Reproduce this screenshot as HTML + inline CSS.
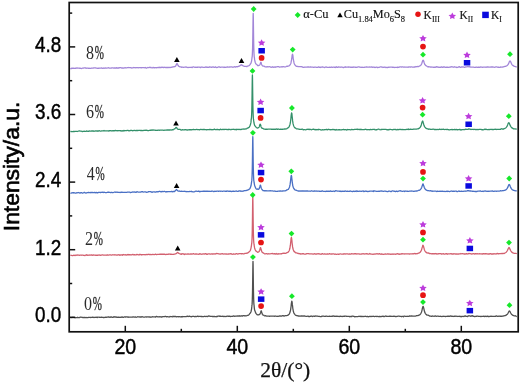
<!DOCTYPE html>
<html><head><meta charset="utf-8"><title>XRD</title>
<style>
html,body{margin:0;padding:0;background:#fff;}
svg{display:block;}
</style></head>
<body>
<svg width="520" height="384" viewBox="0 0 520 384">
<rect width="520" height="384" fill="#fff"/>
<g>
<path d="M70.4,317.55 L71.0,317.66 L71.6,317.57 L72.2,317.52 L72.8,317.40 L73.4,317.48 L74.0,317.72 L74.6,317.68 L75.2,317.76 L75.8,317.65 L76.4,317.64 L77.0,317.59 L77.6,317.26 L78.2,317.59 L78.8,317.62 L79.4,317.63 L80.0,317.25 L80.6,317.13 L81.2,317.23 L81.8,317.33 L82.4,317.49 L83.0,317.47 L83.6,317.56 L84.2,317.38 L84.8,317.49 L85.4,317.53 L86.0,317.36 L86.6,317.71 L87.2,317.61 L87.8,317.69 L88.4,317.40 L89.0,317.29 L89.6,317.32 L90.2,317.36 L90.8,317.50 L91.4,317.47 L92.0,317.34 L92.6,317.21 L93.2,317.24 L93.8,317.54 L94.4,317.28 L95.0,317.38 L95.6,317.44 L96.2,317.13 L96.8,317.29 L97.4,317.55 L98.0,317.06 L98.6,317.19 L99.2,317.27 L99.8,317.17 L100.4,317.35 L101.0,317.31 L101.6,317.06 L102.2,317.37 L102.8,317.43 L103.4,317.49 L104.0,317.59 L104.6,317.43 L105.2,317.34 L105.8,317.07 L106.4,317.31 L107.0,317.16 L107.6,317.15 L108.2,317.00 L108.8,317.00 L109.4,317.07 L110.0,317.40 L110.6,316.93 L111.2,316.88 L111.8,317.15 L112.4,317.43 L113.0,317.37 L113.6,316.92 L114.2,316.68 L114.8,317.09 L115.4,317.02 L116.0,316.94 L116.6,317.26 L117.2,317.38 L117.8,317.25 L118.4,317.22 L119.0,317.24 L119.6,317.44 L120.2,317.33 L120.8,317.27 L121.4,317.26 L122.0,316.89 L122.6,317.26 L123.2,317.31 L123.8,317.25 L124.4,316.80 L125.0,316.89 L125.6,317.17 L126.2,316.79 L126.8,316.96 L127.4,317.20 L128.0,316.88 L128.6,317.27 L129.2,317.21 L129.8,317.07 L130.4,317.10 L131.0,317.16 L131.6,317.09 L132.2,317.23 L132.8,316.97 L133.4,316.93 L134.0,317.16 L134.6,317.05 L135.2,316.86 L135.8,317.11 L136.4,317.27 L137.0,316.99 L137.6,316.74 L138.2,316.87 L138.8,316.91 L139.4,316.89 L140.0,317.17 L140.6,316.83 L141.2,317.12 L141.8,316.77 L142.4,316.74 L143.0,316.97 L143.6,317.12 L144.2,317.12 L144.8,317.03 L145.4,316.96 L146.0,316.94 L146.6,317.00 L147.2,316.89 L147.8,316.92 L148.4,316.98 L149.0,316.90 L149.6,317.00 L150.2,316.99 L150.8,317.23 L151.4,317.01 L152.0,316.82 L152.6,316.76 L153.2,316.80 L153.8,316.97 L154.4,316.80 L155.0,316.87 L155.6,317.13 L156.2,316.46 L156.8,316.50 L157.4,316.74 L158.0,316.84 L158.6,316.83 L159.2,316.71 L159.8,316.86 L160.4,316.84 L161.0,316.69 L161.6,317.14 L162.2,316.92 L162.8,316.70 L163.4,316.70 L164.0,316.68 L164.6,316.69 L165.2,316.24 L165.8,316.48 L166.4,316.81 L167.0,316.53 L167.6,316.63 L168.2,316.83 L168.8,316.87 L169.4,316.98 L170.0,316.47 L170.6,316.54 L171.2,316.56 L171.8,316.73 L172.4,316.86 L173.0,316.25 L173.6,316.70 L174.2,316.40 L174.8,316.67 L175.4,316.38 L176.0,316.57 L176.6,316.80 L177.2,316.63 L177.8,316.64 L178.4,316.74 L179.0,316.65 L179.6,316.58 L180.2,316.83 L180.8,316.82 L181.4,316.59 L182.0,317.03 L182.6,316.50 L183.2,316.68 L183.8,316.53 L184.4,316.55 L185.0,316.65 L185.6,316.60 L186.2,316.65 L186.8,316.29 L187.4,316.18 L188.0,316.51 L188.6,316.33 L189.2,316.26 L189.8,316.16 L190.4,316.60 L191.0,316.63 L191.6,316.76 L192.2,316.39 L192.8,316.43 L193.4,316.25 L194.0,316.51 L194.6,316.73 L195.2,316.36 L195.8,316.67 L196.4,316.66 L197.0,316.45 L197.6,316.08 L198.2,316.54 L198.8,316.42 L199.4,316.29 L200.0,316.42 L200.6,316.46 L201.2,316.66 L201.8,316.29 L202.4,316.55 L203.0,316.68 L203.6,316.72 L204.2,316.45 L204.8,316.27 L205.4,316.52 L206.0,316.44 L206.6,316.42 L207.2,316.63 L207.8,316.41 L208.4,315.99 L209.0,316.19 L209.6,316.00 L210.2,316.40 L210.8,316.44 L211.4,316.29 L212.0,316.34 L212.6,316.50 L213.2,316.42 L213.8,316.61 L214.4,316.43 L215.0,316.56 L215.6,316.68 L216.2,316.73 L216.8,316.36 L217.4,316.51 L218.0,316.09 L218.6,316.09 L219.2,315.95 L219.8,316.42 L220.4,316.16 L221.0,316.30 L221.6,316.30 L222.2,316.33 L222.8,316.24 L223.4,316.36 L224.0,316.65 L224.6,316.44 L225.2,316.46 L225.8,316.55 L226.4,316.37 L227.0,316.13 L227.6,316.18 L228.2,316.46 L228.8,316.09 L229.4,316.15 L230.0,316.44 L230.6,316.49 L231.2,316.36 L231.8,316.46 L232.4,316.37 L233.0,316.12 L233.6,315.97 L234.2,316.08 L234.8,316.37 L235.4,316.20 L236.0,316.08 L236.6,316.07 L237.2,315.92 L237.8,316.11 L238.4,315.98 L239.0,316.19 L239.6,315.78 L240.2,316.10 L240.8,316.01 L241.4,315.74 L242.0,316.10 L242.6,316.01 L243.2,315.62 L243.8,315.70 L244.4,315.87 L245.0,315.75 L245.6,315.86 L246.2,315.81 L246.8,315.68 L247.4,315.45 L248.0,315.38 L248.6,315.01 L249.2,314.54 L249.8,313.50 L250.4,313.00 L251.0,311.75 L251.6,308.82 L251.7,307.73 L251.8,306.88 L251.9,305.54 L252.1,304.13 L252.2,302.37 L252.3,299.80 L252.4,296.64 L252.5,292.46 L252.6,286.76 L252.7,279.63 L252.8,271.52 L252.9,264.26 L253.0,261.29 L253.1,264.30 L253.2,271.50 L253.3,279.60 L253.4,286.71 L253.5,292.28 L253.6,296.55 L253.7,299.82 L253.8,302.23 L253.9,304.05 L254.1,305.51 L254.2,306.86 L254.3,307.80 L254.6,310.08 L255.2,311.60 L255.8,313.14 L256.4,313.94 L257.0,314.63 L257.6,314.77 L258.2,314.79 L258.8,314.78 L259.0,314.63 L259.2,314.68 L259.4,314.58 L259.6,314.39 L259.8,314.28 L260.0,314.06 L260.2,313.55 L260.4,313.05 L260.6,312.47 L260.8,311.76 L261.0,311.10 L261.2,310.81 L261.4,311.25 L261.6,311.92 L261.8,312.57 L262.0,313.20 L262.2,313.89 L262.4,314.31 L262.6,314.67 L262.8,314.88 L263.0,314.98 L263.2,315.16 L263.4,315.17 L263.6,315.15 L264.2,315.54 L264.8,315.83 L265.4,315.76 L266.0,315.89 L266.6,316.06 L267.2,316.12 L267.8,316.21 L268.4,316.18 L269.0,316.09 L269.6,316.27 L270.2,316.21 L270.8,316.05 L271.4,316.04 L272.0,316.15 L272.6,316.17 L273.2,316.22 L273.8,316.21 L274.4,316.24 L275.0,316.20 L275.6,315.99 L276.2,316.21 L276.8,316.38 L277.4,316.33 L278.0,316.20 L278.6,316.26 L279.2,316.04 L279.8,315.80 L280.4,316.05 L281.0,315.94 L281.6,316.18 L282.2,315.92 L282.8,315.56 L283.4,315.69 L284.0,316.14 L284.6,315.89 L285.2,315.59 L285.8,315.53 L286.4,315.63 L287.0,315.53 L287.6,315.26 L288.2,315.13 L288.8,314.56 L289.1,314.09 L289.3,313.75 L289.6,313.37 L289.8,312.80 L290.1,312.09 L290.3,311.06 L290.6,309.86 L290.8,308.31 L291.1,306.27 L291.3,304.05 L291.6,302.04 L291.8,301.23 L292.1,302.01 L292.3,304.13 L292.6,306.38 L292.8,308.30 L293.1,309.89 L293.3,311.23 L293.6,312.04 L293.8,312.78 L294.1,313.35 L294.3,313.75 L294.6,314.02 L294.8,314.34 L295.4,314.93 L296.0,315.42 L296.6,315.65 L297.2,315.69 L297.8,315.92 L298.4,316.00 L299.0,316.01 L299.6,316.03 L300.2,316.01 L300.8,316.19 L301.4,315.97 L302.0,316.00 L302.6,316.13 L303.2,315.93 L303.8,316.06 L304.4,315.84 L305.0,316.01 L305.6,316.28 L306.2,316.37 L306.8,316.30 L307.4,316.25 L308.0,316.04 L308.6,316.53 L309.2,316.46 L309.8,316.54 L310.4,316.23 L311.0,316.26 L311.6,316.00 L312.2,316.36 L312.8,316.50 L313.4,316.06 L314.0,316.24 L314.6,316.42 L315.2,316.06 L315.8,315.95 L316.4,316.05 L317.0,316.15 L317.6,316.05 L318.2,316.27 L318.8,316.37 L319.4,316.47 L320.0,316.51 L320.6,316.66 L321.2,316.65 L321.8,316.22 L322.4,316.23 L323.0,316.14 L323.6,316.11 L324.2,316.28 L324.8,316.34 L325.4,316.44 L326.0,316.12 L326.6,316.08 L327.2,316.28 L327.8,316.31 L328.4,316.30 L329.0,316.34 L329.6,316.23 L330.2,316.45 L330.8,316.46 L331.4,316.38 L332.0,316.26 L332.6,316.31 L333.2,315.89 L333.8,316.06 L334.4,316.29 L335.0,316.09 L335.6,316.33 L336.2,316.39 L336.8,316.15 L337.4,316.27 L338.0,316.29 L338.6,316.43 L339.2,316.50 L339.8,316.41 L340.4,316.24 L341.0,316.31 L341.6,316.35 L342.2,316.50 L342.8,316.46 L343.4,316.28 L344.0,316.12 L344.6,316.24 L345.2,316.21 L345.8,316.14 L346.4,316.29 L347.0,316.27 L347.6,316.37 L348.2,316.47 L348.8,316.34 L349.4,316.76 L350.0,316.44 L350.6,316.59 L351.2,316.46 L351.8,316.60 L352.4,316.04 L353.0,316.15 L353.6,316.36 L354.2,316.48 L354.8,316.81 L355.4,316.57 L356.0,316.65 L356.6,316.59 L357.2,316.61 L357.8,316.54 L358.4,316.40 L359.0,316.48 L359.6,316.23 L360.2,316.54 L360.8,316.26 L361.4,316.39 L362.0,316.74 L362.6,316.45 L363.2,316.41 L363.8,316.59 L364.4,316.45 L365.0,316.26 L365.6,316.39 L366.2,316.48 L366.8,316.53 L367.4,316.30 L368.0,316.65 L368.6,316.75 L369.2,316.49 L369.8,316.46 L370.4,316.33 L371.0,316.61 L371.6,316.33 L372.2,316.48 L372.8,316.33 L373.4,316.25 L374.0,316.46 L374.6,316.63 L375.2,316.45 L375.8,316.29 L376.4,316.49 L377.0,316.40 L377.6,316.44 L378.2,316.66 L378.8,316.65 L379.4,316.37 L380.0,316.76 L380.6,316.49 L381.2,316.55 L381.8,316.32 L382.4,316.35 L383.0,316.07 L383.6,316.59 L384.2,316.67 L384.8,316.26 L385.4,316.08 L386.0,316.01 L386.6,316.46 L387.2,316.32 L387.8,316.35 L388.4,316.31 L389.0,316.33 L389.6,316.17 L390.2,316.31 L390.8,316.11 L391.4,316.28 L392.0,316.39 L392.6,316.45 L393.2,316.35 L393.8,316.20 L394.4,316.34 L395.0,316.27 L395.6,316.60 L396.2,316.56 L396.8,316.40 L397.4,316.28 L398.0,316.21 L398.6,316.15 L399.2,316.23 L399.8,316.36 L400.4,316.43 L401.0,316.46 L401.6,316.73 L402.2,316.33 L402.8,316.33 L403.4,316.80 L404.0,316.14 L404.6,316.17 L405.2,316.30 L405.8,316.33 L406.4,316.37 L407.0,316.27 L407.6,316.34 L408.2,316.30 L408.8,316.40 L409.4,315.97 L410.0,316.00 L410.6,316.15 L411.2,316.01 L411.8,315.95 L412.4,316.20 L413.0,316.04 L413.6,316.19 L414.2,316.22 L414.8,316.13 L415.4,316.09 L416.0,315.93 L416.6,315.59 L417.2,315.65 L417.8,315.64 L418.4,315.34 L419.0,315.13 L419.2,315.19 L419.5,314.85 L419.9,314.67 L420.2,314.47 L420.5,314.00 L420.8,313.54 L421.1,312.92 L421.5,312.20 L421.8,311.11 L422.1,309.81 L422.4,308.24 L422.8,306.93 L423.1,306.39 L423.4,306.85 L423.8,308.30 L424.1,309.81 L424.4,311.00 L424.7,312.14 L425.1,312.92 L425.4,313.55 L425.7,314.02 L426.0,314.29 L426.4,314.62 L426.7,314.95 L427.0,315.06 L427.4,315.08 L428.0,315.19 L428.6,315.34 L429.2,315.73 L429.8,316.13 L430.4,316.09 L431.0,316.08 L431.6,316.45 L432.2,316.12 L432.8,316.01 L433.4,316.21 L434.0,316.28 L434.6,316.05 L435.2,315.97 L435.8,316.20 L436.4,316.28 L437.0,316.04 L437.6,316.17 L438.2,316.15 L438.8,316.32 L439.4,316.28 L440.0,316.28 L440.6,316.24 L441.2,316.47 L441.8,316.60 L442.4,316.34 L443.0,316.47 L443.6,316.24 L444.2,316.32 L444.8,316.45 L445.4,316.63 L446.0,316.36 L446.6,316.33 L447.2,316.37 L447.8,316.10 L448.4,316.27 L449.0,316.21 L449.6,316.37 L450.2,316.16 L450.8,315.96 L451.4,316.24 L452.0,316.36 L452.6,316.26 L453.2,316.48 L453.8,316.34 L454.4,316.25 L455.0,316.40 L455.6,316.10 L456.2,316.16 L456.8,316.29 L457.4,316.48 L458.0,316.36 L458.6,316.41 L459.2,316.26 L459.8,316.37 L460.4,316.64 L461.0,316.31 L461.6,316.73 L462.2,316.34 L462.8,316.34 L463.4,316.35 L464.0,316.50 L464.6,316.14 L465.2,315.88 L465.8,316.24 L466.4,316.35 L467.0,316.30 L467.6,316.54 L468.2,316.06 L468.8,315.74 L469.4,315.78 L470.0,315.92 L470.6,316.32 L471.2,316.01 L471.8,316.10 L472.4,315.63 L473.0,316.23 L473.6,316.22 L474.2,316.44 L474.8,316.72 L475.4,316.45 L476.0,316.33 L476.6,316.25 L477.2,316.17 L477.8,316.19 L478.4,316.41 L479.0,316.37 L479.6,316.37 L480.2,316.33 L480.8,316.50 L481.4,316.48 L482.0,316.36 L482.6,316.47 L483.2,316.36 L483.8,316.16 L484.4,316.54 L485.0,316.48 L485.6,316.22 L486.2,316.49 L486.8,316.45 L487.4,316.11 L488.0,316.54 L488.6,316.45 L489.2,316.52 L489.8,316.42 L490.4,316.33 L491.0,316.06 L491.6,316.41 L492.2,316.35 L492.8,316.27 L493.4,316.35 L494.0,316.33 L494.6,316.41 L495.2,316.26 L495.8,316.26 L496.4,315.90 L497.0,316.07 L497.6,316.30 L498.2,316.47 L498.8,316.22 L499.4,316.17 L500.0,316.43 L500.6,316.16 L501.2,316.23 L501.8,316.38 L502.4,316.11 L503.0,316.18 L503.6,315.82 L504.2,315.79 L504.6,315.68 L505.0,315.58 L505.4,315.51 L505.8,315.44 L506.2,315.11 L506.6,314.82 L507.0,314.54 L507.4,314.04 L507.8,313.53 L508.2,312.84 L508.6,311.99 L509.0,311.31 L509.4,310.92 L509.8,311.31 L510.2,311.93 L510.6,312.75 L511.0,313.48 L511.4,314.05 L511.8,314.55 L512.2,314.86 L512.6,315.09 L513.0,315.32 L513.4,315.54 L513.8,315.61 L514.2,315.77 L514.4,315.96 L515.0,315.95 L515.6,315.74 L516.2,316.36 L516.8,316.53" fill="none" stroke="#505050" stroke-width="1.3" stroke-linejoin="round"/>
<path d="M70.4,255.06 L71.0,255.28 L71.6,255.42 L72.2,255.55 L72.8,255.53 L73.4,255.36 L74.0,255.18 L74.6,255.31 L75.2,255.51 L75.8,255.20 L76.4,255.11 L77.0,255.25 L77.6,254.97 L78.2,255.16 L78.8,255.18 L79.4,255.34 L80.0,255.18 L80.6,255.10 L81.2,255.16 L81.8,255.23 L82.4,255.14 L83.0,255.22 L83.6,255.37 L84.2,255.48 L84.8,255.60 L85.4,255.21 L86.0,255.15 L86.6,254.77 L87.2,255.40 L87.8,255.14 L88.4,255.17 L89.0,255.27 L89.6,254.98 L90.2,255.20 L90.8,255.17 L91.4,254.86 L92.0,255.12 L92.6,255.34 L93.2,254.89 L93.8,255.20 L94.4,255.19 L95.0,255.22 L95.6,255.23 L96.2,255.37 L96.8,255.15 L97.4,255.26 L98.0,255.07 L98.6,255.21 L99.2,254.98 L99.8,255.03 L100.4,255.35 L101.0,255.22 L101.6,255.08 L102.2,254.86 L102.8,254.85 L103.4,255.01 L104.0,255.18 L104.6,255.14 L105.2,255.14 L105.8,255.04 L106.4,255.24 L107.0,255.00 L107.6,254.90 L108.2,255.11 L108.8,255.03 L109.4,254.94 L110.0,254.86 L110.6,254.88 L111.2,255.04 L111.8,255.03 L112.4,254.76 L113.0,254.95 L113.6,254.96 L114.2,254.76 L114.8,255.00 L115.4,254.88 L116.0,254.84 L116.6,255.01 L117.2,255.15 L117.8,254.84 L118.4,254.94 L119.0,254.74 L119.6,255.22 L120.2,254.88 L120.8,255.06 L121.4,254.79 L122.0,254.96 L122.6,255.24 L123.2,254.51 L123.8,254.65 L124.4,254.84 L125.0,254.80 L125.6,254.68 L126.2,255.12 L126.8,254.90 L127.4,254.53 L128.0,254.84 L128.6,254.49 L129.2,254.87 L129.8,254.69 L130.4,254.75 L131.0,254.95 L131.6,254.82 L132.2,254.51 L132.8,254.37 L133.4,254.81 L134.0,254.86 L134.6,254.61 L135.2,254.81 L135.8,254.81 L136.4,254.82 L137.0,254.33 L137.6,254.51 L138.2,254.77 L138.8,254.81 L139.4,254.84 L140.0,254.28 L140.6,254.55 L141.2,254.69 L141.8,255.07 L142.4,254.59 L143.0,254.54 L143.6,254.59 L144.2,254.74 L144.8,254.56 L145.4,254.77 L146.0,254.50 L146.6,254.59 L147.2,254.48 L147.8,254.56 L148.4,254.43 L149.0,254.23 L149.6,254.63 L150.2,254.61 L150.8,254.45 L151.4,254.53 L152.0,254.68 L152.6,254.39 L153.2,254.44 L153.8,254.56 L154.4,254.59 L155.0,254.45 L155.6,254.10 L156.2,254.56 L156.8,254.54 L157.4,254.47 L158.0,254.40 L158.6,254.46 L159.2,254.36 L159.8,254.22 L160.4,254.23 L161.0,254.25 L161.6,254.25 L162.2,254.15 L162.8,254.42 L163.4,254.16 L164.0,254.41 L164.6,254.20 L165.2,254.36 L165.8,254.58 L166.4,254.44 L167.0,254.23 L167.6,254.30 L168.2,254.33 L168.8,254.01 L169.4,254.10 L170.0,254.24 L170.6,254.17 L171.2,254.23 L171.8,254.35 L172.4,254.37 L173.0,254.38 L173.6,254.31 L174.2,254.10 L174.8,254.04 L175.4,253.89 L176.0,253.71 L176.6,253.41 L177.2,252.62 L177.8,252.49 L178.4,253.06 L179.0,253.38 L179.6,253.74 L180.2,253.99 L180.8,253.99 L181.4,254.39 L182.0,253.73 L182.6,253.95 L183.2,253.74 L183.8,254.16 L184.4,254.57 L185.0,253.82 L185.6,254.04 L186.2,254.17 L186.8,254.07 L187.4,254.18 L188.0,253.74 L188.6,254.13 L189.2,254.16 L189.8,254.10 L190.4,253.98 L191.0,254.15 L191.6,254.00 L192.2,254.08 L192.8,253.97 L193.4,253.64 L194.0,253.91 L194.6,254.03 L195.2,254.15 L195.8,253.91 L196.4,253.98 L197.0,254.10 L197.6,254.05 L198.2,254.22 L198.8,254.40 L199.4,253.95 L200.0,253.64 L200.6,254.02 L201.2,254.25 L201.8,254.21 L202.4,254.18 L203.0,253.93 L203.6,253.84 L204.2,254.08 L204.8,253.85 L205.4,253.63 L206.0,253.70 L206.6,254.31 L207.2,254.40 L207.8,253.98 L208.4,253.85 L209.0,253.97 L209.6,253.84 L210.2,254.15 L210.8,254.01 L211.4,253.80 L212.0,254.14 L212.6,253.92 L213.2,253.99 L213.8,253.97 L214.4,253.91 L215.0,254.00 L215.6,253.86 L216.2,253.62 L216.8,253.48 L217.4,253.60 L218.0,253.72 L218.6,253.88 L219.2,253.94 L219.8,254.04 L220.4,254.00 L221.0,253.83 L221.6,253.79 L222.2,253.54 L222.8,253.80 L223.4,253.98 L224.0,254.04 L224.6,253.95 L225.2,253.91 L225.8,254.09 L226.4,253.98 L227.0,254.07 L227.6,254.07 L228.2,254.00 L228.8,254.17 L229.4,253.89 L230.0,253.84 L230.6,253.75 L231.2,253.72 L231.8,254.11 L232.4,254.26 L233.0,254.00 L233.6,254.01 L234.2,254.11 L234.8,254.08 L235.4,254.13 L236.0,253.71 L236.6,253.69 L237.2,253.86 L237.8,254.07 L238.4,253.89 L239.0,253.67 L239.6,253.67 L240.2,253.60 L240.8,253.53 L241.4,253.89 L242.0,253.61 L242.6,253.61 L243.2,253.94 L243.8,253.84 L244.4,253.61 L245.0,253.33 L245.6,253.35 L246.2,253.47 L246.8,253.22 L247.4,253.11 L248.0,252.68 L248.6,252.36 L249.2,251.77 L249.8,251.15 L250.4,250.27 L251.0,248.08 L251.5,245.04 L251.6,244.11 L251.8,242.86 L251.9,241.35 L252.0,239.47 L252.1,237.05 L252.2,233.72 L252.3,229.31 L252.4,223.43 L252.5,216.25 L252.6,207.84 L252.7,200.45 L252.8,197.32 L252.9,200.42 L253.0,207.74 L253.1,216.14 L253.2,223.50 L253.3,229.26 L253.4,233.63 L253.5,236.86 L253.6,239.46 L253.7,241.31 L253.8,242.74 L254.0,244.01 L254.1,244.98 L254.6,247.93 L255.2,249.75 L255.8,250.88 L256.4,251.29 L257.0,251.77 L257.6,252.26 L258.1,252.11 L258.3,252.02 L258.5,251.95 L258.7,251.83 L258.9,251.68 L259.1,251.50 L259.3,251.16 L259.5,250.61 L259.7,250.13 L259.9,249.38 L260.1,248.62 L260.3,247.85 L260.5,247.58 L260.7,248.04 L260.9,248.70 L261.1,249.54 L261.3,250.30 L261.5,250.87 L261.7,251.36 L261.9,251.85 L262.1,252.12 L262.3,252.28 L262.5,252.46 L262.7,252.72 L262.9,252.80 L263.0,252.79 L263.6,253.16 L264.2,253.54 L264.8,253.81 L265.4,253.79 L266.0,253.67 L266.6,253.67 L267.2,253.97 L267.8,254.02 L268.4,253.75 L269.0,253.81 L269.6,253.81 L270.2,253.78 L270.8,253.69 L271.4,253.52 L272.0,253.61 L272.6,253.47 L273.2,253.90 L273.8,253.92 L274.4,253.63 L275.0,253.98 L275.6,254.00 L276.2,253.53 L276.8,254.02 L277.4,253.99 L278.0,254.19 L278.6,253.68 L279.2,253.81 L279.8,253.83 L280.4,253.78 L281.0,253.74 L281.6,253.86 L282.2,253.44 L282.8,253.33 L283.4,253.23 L284.0,253.30 L284.6,253.25 L285.2,253.33 L285.8,253.24 L286.4,253.04 L287.0,252.68 L287.6,252.36 L288.2,252.12 L288.4,251.95 L288.6,251.49 L288.9,251.08 L289.1,250.69 L289.4,250.01 L289.6,249.27 L289.9,248.30 L290.1,246.92 L290.4,245.23 L290.6,242.96 L290.9,240.58 L291.1,238.39 L291.4,237.39 L291.6,238.38 L291.9,240.50 L292.1,243.06 L292.4,245.17 L292.6,246.91 L292.9,248.25 L293.1,249.23 L293.4,250.03 L293.6,250.60 L293.9,251.12 L294.1,251.49 L294.4,251.84 L294.8,251.73 L295.4,252.66 L296.0,252.92 L296.6,252.81 L297.2,253.18 L297.8,253.43 L298.4,253.67 L299.0,253.42 L299.6,253.82 L300.2,253.69 L300.8,254.10 L301.4,253.82 L302.0,253.89 L302.6,253.75 L303.2,253.60 L303.8,253.94 L304.4,254.02 L305.0,254.16 L305.6,254.09 L306.2,253.84 L306.8,253.58 L307.4,253.68 L308.0,253.71 L308.6,253.70 L309.2,253.94 L309.8,253.97 L310.4,253.88 L311.0,253.94 L311.6,253.90 L312.2,253.95 L312.8,254.06 L313.4,254.13 L314.0,253.88 L314.6,253.66 L315.2,254.10 L315.8,254.01 L316.4,254.15 L317.0,253.73 L317.6,253.83 L318.2,253.92 L318.8,253.70 L319.4,253.79 L320.0,254.03 L320.6,254.16 L321.2,254.29 L321.8,253.91 L322.4,253.71 L323.0,253.97 L323.6,254.13 L324.2,254.04 L324.8,253.77 L325.4,254.04 L326.0,254.12 L326.6,254.11 L327.2,253.93 L327.8,254.01 L328.4,254.11 L329.0,253.92 L329.6,253.64 L330.2,253.93 L330.8,254.04 L331.4,253.99 L332.0,254.13 L332.6,253.92 L333.2,253.94 L333.8,253.91 L334.4,254.05 L335.0,254.27 L335.6,254.02 L336.2,254.34 L336.8,254.34 L337.4,254.22 L338.0,254.15 L338.6,254.33 L339.2,254.05 L339.8,253.98 L340.4,253.80 L341.0,254.00 L341.6,254.22 L342.2,254.14 L342.8,254.10 L343.4,253.98 L344.0,254.01 L344.6,253.75 L345.2,254.09 L345.8,253.94 L346.4,253.78 L347.0,253.79 L347.6,253.78 L348.2,254.07 L348.8,254.19 L349.4,253.81 L350.0,254.09 L350.6,254.16 L351.2,253.94 L351.8,253.72 L352.4,253.78 L353.0,253.81 L353.6,253.99 L354.2,253.92 L354.8,253.62 L355.4,253.91 L356.0,253.70 L356.6,254.05 L357.2,253.80 L357.8,253.81 L358.4,253.79 L359.0,253.83 L359.6,254.16 L360.2,254.18 L360.8,254.14 L361.4,254.09 L362.0,253.75 L362.6,253.82 L363.2,253.84 L363.8,253.77 L364.4,254.01 L365.0,253.86 L365.6,253.83 L366.2,253.76 L366.8,253.57 L367.4,253.96 L368.0,254.20 L368.6,254.08 L369.2,253.84 L369.8,253.48 L370.4,253.86 L371.0,254.15 L371.6,254.08 L372.2,254.17 L372.8,254.29 L373.4,254.27 L374.0,253.99 L374.6,254.16 L375.2,254.17 L375.8,253.78 L376.4,253.85 L377.0,253.70 L377.6,253.88 L378.2,254.05 L378.8,253.82 L379.4,253.58 L380.0,254.08 L380.6,254.07 L381.2,254.26 L381.8,253.84 L382.4,254.12 L383.0,254.37 L383.6,254.44 L384.2,254.08 L384.8,254.05 L385.4,253.97 L386.0,254.14 L386.6,254.20 L387.2,254.06 L387.8,253.77 L388.4,254.04 L389.0,253.91 L389.6,254.06 L390.2,254.04 L390.8,254.27 L391.4,254.25 L392.0,253.98 L392.6,254.03 L393.2,254.28 L393.8,253.97 L394.4,254.04 L395.0,254.19 L395.6,254.24 L396.2,254.13 L396.8,253.79 L397.4,253.69 L398.0,253.92 L398.6,254.01 L399.2,254.40 L399.8,253.94 L400.4,254.14 L401.0,254.13 L401.6,253.71 L402.2,253.73 L402.8,253.90 L403.4,253.84 L404.0,253.87 L404.6,253.99 L405.2,253.80 L405.8,253.96 L406.4,253.81 L407.0,253.78 L407.6,253.95 L408.2,253.80 L408.8,253.90 L409.4,254.15 L410.0,253.94 L410.6,253.84 L411.2,253.95 L411.8,253.78 L412.4,253.97 L413.0,253.60 L413.6,253.79 L414.2,253.63 L414.8,253.51 L415.4,253.87 L416.0,253.49 L416.6,253.76 L417.2,253.58 L417.8,253.57 L418.4,253.03 L419.0,253.06 L419.1,252.92 L419.4,252.69 L419.8,252.46 L420.1,252.33 L420.4,251.93 L420.7,251.47 L421.1,250.90 L421.4,250.25 L421.7,249.33 L422.0,248.16 L422.4,246.92 L422.7,245.68 L423.0,245.22 L423.3,245.76 L423.6,246.80 L424.0,248.19 L424.3,249.42 L424.6,250.20 L424.9,250.87 L425.3,251.40 L425.6,251.77 L425.9,252.19 L426.2,252.36 L426.6,252.66 L426.9,252.90 L427.4,252.83 L428.0,253.10 L428.6,252.99 L429.2,253.48 L429.8,253.41 L430.4,253.52 L431.0,253.63 L431.6,253.78 L432.2,253.69 L432.8,253.75 L433.4,253.68 L434.0,253.79 L434.6,253.62 L435.2,253.79 L435.8,253.51 L436.4,253.67 L437.0,254.14 L437.6,253.97 L438.2,253.70 L438.8,253.88 L439.4,253.73 L440.0,253.58 L440.6,253.69 L441.2,253.98 L441.8,254.00 L442.4,253.93 L443.0,253.77 L443.6,253.70 L444.2,254.10 L444.8,254.03 L445.4,253.81 L446.0,253.54 L446.6,253.59 L447.2,254.26 L447.8,253.85 L448.4,253.91 L449.0,253.97 L449.6,253.93 L450.2,253.90 L450.8,253.71 L451.4,253.70 L452.0,254.17 L452.6,253.89 L453.2,254.08 L453.8,253.71 L454.4,253.84 L455.0,253.97 L455.6,254.14 L456.2,253.82 L456.8,254.02 L457.4,254.04 L458.0,253.86 L458.6,254.01 L459.2,253.82 L459.8,253.78 L460.4,253.90 L461.0,253.47 L461.6,253.79 L462.2,253.73 L462.8,253.63 L463.4,253.77 L464.0,254.01 L464.6,253.88 L465.2,254.11 L465.8,253.76 L466.4,253.61 L467.0,254.02 L467.6,253.90 L468.2,253.87 L468.8,253.43 L469.4,253.49 L470.0,253.53 L470.6,253.76 L471.2,253.79 L471.8,254.03 L472.4,253.81 L473.0,253.71 L473.6,253.60 L474.2,254.02 L474.8,253.83 L475.4,253.73 L476.0,253.71 L476.6,253.80 L477.2,253.68 L477.8,253.82 L478.4,253.80 L479.0,253.81 L479.6,253.74 L480.2,253.89 L480.8,253.85 L481.4,253.94 L482.0,253.99 L482.6,254.01 L483.2,253.59 L483.8,253.75 L484.4,253.75 L485.0,254.01 L485.6,253.69 L486.2,253.74 L486.8,253.83 L487.4,253.84 L488.0,254.07 L488.6,253.89 L489.2,254.08 L489.8,253.71 L490.4,253.54 L491.0,254.01 L491.6,254.01 L492.2,254.01 L492.8,253.95 L493.4,253.98 L494.0,253.70 L494.6,253.97 L495.2,253.80 L495.8,253.99 L496.4,253.89 L497.0,253.50 L497.6,253.48 L498.2,253.88 L498.8,253.76 L499.4,253.66 L500.0,253.72 L500.6,253.59 L501.2,253.50 L501.8,253.54 L502.4,253.50 L503.0,253.66 L503.6,253.37 L504.2,253.48 L504.6,253.14 L505.0,252.99 L505.4,252.77 L505.8,252.47 L506.2,252.15 L506.6,251.74 L507.0,251.18 L507.4,250.52 L507.8,249.64 L508.2,248.78 L508.6,247.90 L509.0,247.49 L509.4,247.75 L509.8,248.67 L510.2,249.65 L510.6,250.47 L511.0,251.14 L511.4,251.60 L511.8,252.12 L512.2,252.43 L512.6,252.81 L513.0,252.90 L513.4,253.02 L513.8,253.21 L514.4,253.38 L515.0,253.45 L515.6,253.44 L516.2,253.44 L516.8,253.83" fill="none" stroke="#d2606f" stroke-width="1.3" stroke-linejoin="round"/>
<path d="M70.4,193.06 L71.0,193.23 L71.6,192.92 L72.2,192.89 L72.8,192.72 L73.4,192.98 L74.0,192.65 L74.6,192.88 L75.2,193.03 L75.8,193.13 L76.4,192.75 L77.0,192.98 L77.6,192.73 L78.2,192.65 L78.8,192.52 L79.4,192.90 L80.0,193.09 L80.6,192.76 L81.2,192.63 L81.8,192.66 L82.4,193.14 L83.0,193.03 L83.6,192.72 L84.2,192.42 L84.8,192.51 L85.4,192.85 L86.0,193.06 L86.6,192.76 L87.2,192.59 L87.8,192.56 L88.4,192.32 L89.0,192.71 L89.6,192.49 L90.2,192.78 L90.8,192.39 L91.4,192.34 L92.0,192.59 L92.6,192.48 L93.2,192.70 L93.8,192.63 L94.4,192.41 L95.0,192.64 L95.6,192.74 L96.2,192.30 L96.8,192.79 L97.4,192.71 L98.0,192.73 L98.6,192.28 L99.2,192.34 L99.8,192.41 L100.4,192.67 L101.0,192.31 L101.6,192.30 L102.2,192.09 L102.8,192.33 L103.4,192.50 L104.0,192.19 L104.6,192.28 L105.2,192.49 L105.8,192.73 L106.4,192.64 L107.0,192.45 L107.6,192.24 L108.2,192.21 L108.8,192.24 L109.4,192.38 L110.0,192.39 L110.6,192.67 L111.2,192.52 L111.8,192.24 L112.4,192.59 L113.0,192.59 L113.6,192.44 L114.2,192.25 L114.8,192.00 L115.4,192.06 L116.0,192.40 L116.6,192.21 L117.2,192.06 L117.8,192.26 L118.4,192.33 L119.0,192.40 L119.6,192.43 L120.2,192.56 L120.8,192.21 L121.4,192.41 L122.0,192.13 L122.6,192.33 L123.2,192.29 L123.8,192.29 L124.4,192.41 L125.0,192.27 L125.6,192.41 L126.2,192.41 L126.8,192.28 L127.4,192.12 L128.0,192.03 L128.6,192.04 L129.2,192.09 L129.8,192.13 L130.4,192.65 L131.0,192.40 L131.6,192.34 L132.2,192.04 L132.8,191.97 L133.4,192.02 L134.0,192.11 L134.6,191.92 L135.2,192.31 L135.8,192.05 L136.4,192.25 L137.0,191.72 L137.6,191.96 L138.2,192.07 L138.8,192.08 L139.4,192.15 L140.0,192.11 L140.6,192.08 L141.2,191.71 L141.8,191.80 L142.4,191.54 L143.0,191.96 L143.6,192.03 L144.2,191.96 L144.8,191.82 L145.4,191.82 L146.0,192.23 L146.6,192.32 L147.2,192.04 L147.8,192.18 L148.4,191.73 L149.0,191.53 L149.6,191.71 L150.2,191.69 L150.8,191.74 L151.4,191.87 L152.0,192.39 L152.6,191.91 L153.2,191.88 L153.8,191.91 L154.4,191.86 L155.0,192.00 L155.6,192.18 L156.2,191.72 L156.8,191.81 L157.4,191.76 L158.0,191.85 L158.6,191.55 L159.2,191.41 L159.8,191.27 L160.4,191.70 L161.0,191.77 L161.6,191.77 L162.2,191.34 L162.8,191.55 L163.4,191.54 L164.0,191.42 L164.6,191.46 L165.2,191.74 L165.8,191.79 L166.4,191.70 L167.0,191.76 L167.6,191.57 L168.2,191.63 L168.8,191.62 L169.4,191.70 L170.0,191.60 L170.6,191.54 L171.2,191.51 L171.8,191.39 L172.4,191.81 L173.0,191.60 L173.6,191.46 L174.2,191.63 L174.8,191.36 L175.4,190.46 L176.0,190.00 L176.6,189.54 L177.2,190.28 L177.8,190.92 L178.4,191.18 L179.0,191.01 L179.6,191.06 L180.2,191.31 L180.8,191.44 L181.4,191.24 L182.0,191.29 L182.6,191.31 L183.2,191.40 L183.8,191.47 L184.4,191.39 L185.0,191.20 L185.6,191.57 L186.2,191.74 L186.8,191.49 L187.4,191.61 L188.0,191.54 L188.6,191.56 L189.2,191.53 L189.8,191.30 L190.4,191.46 L191.0,191.57 L191.6,191.28 L192.2,191.67 L192.8,191.81 L193.4,191.80 L194.0,191.82 L194.6,191.61 L195.2,191.36 L195.8,191.23 L196.4,191.15 L197.0,191.28 L197.6,191.29 L198.2,191.41 L198.8,190.98 L199.4,191.58 L200.0,191.75 L200.6,191.41 L201.2,191.43 L201.8,191.40 L202.4,191.36 L203.0,191.26 L203.6,191.25 L204.2,191.13 L204.8,191.26 L205.4,191.27 L206.0,191.32 L206.6,191.14 L207.2,191.24 L207.8,191.27 L208.4,191.37 L209.0,191.12 L209.6,191.30 L210.2,191.44 L210.8,191.42 L211.4,191.25 L212.0,191.18 L212.6,191.20 L213.2,191.37 L213.8,191.56 L214.4,191.33 L215.0,191.17 L215.6,191.30 L216.2,191.31 L216.8,191.12 L217.4,191.09 L218.0,191.19 L218.6,191.35 L219.2,191.08 L219.8,191.03 L220.4,191.27 L221.0,191.05 L221.6,191.21 L222.2,191.30 L222.8,191.24 L223.4,191.07 L224.0,191.18 L224.6,191.17 L225.2,191.27 L225.8,191.10 L226.4,191.38 L227.0,190.99 L227.6,191.13 L228.2,191.20 L228.8,191.38 L229.4,191.16 L230.0,191.29 L230.6,191.14 L231.2,191.31 L231.8,191.53 L232.4,191.23 L233.0,191.28 L233.6,191.05 L234.2,191.30 L234.8,191.41 L235.4,191.24 L236.0,190.98 L236.6,191.16 L237.2,191.33 L237.8,191.37 L238.4,191.32 L239.0,190.84 L239.6,190.88 L240.2,191.24 L240.8,190.88 L241.4,191.15 L242.0,191.34 L242.6,191.17 L243.2,191.16 L243.8,190.87 L244.4,190.58 L245.0,190.63 L245.6,190.56 L246.2,190.48 L246.8,190.47 L247.4,190.19 L248.0,189.97 L248.6,189.69 L249.2,189.17 L249.8,188.80 L250.4,187.64 L251.0,185.82 L251.5,182.70 L251.6,181.72 L251.8,180.64 L251.9,179.14 L252.0,177.21 L252.1,174.80 L252.2,171.65 L252.3,167.42 L252.4,161.93 L252.5,154.76 L252.6,146.76 L252.7,139.65 L252.8,136.62 L252.9,139.62 L253.0,146.72 L253.1,154.81 L253.2,161.84 L253.3,167.43 L253.4,171.55 L253.5,174.72 L253.6,177.23 L253.7,179.12 L253.8,180.54 L254.0,181.67 L254.1,182.70 L254.6,185.34 L255.2,187.09 L255.8,188.32 L256.4,188.99 L257.0,189.07 L257.6,189.01 L258.0,189.42 L258.2,189.37 L258.4,189.25 L258.6,189.18 L258.8,189.08 L259.0,188.71 L259.2,188.55 L259.4,188.17 L259.6,187.49 L259.8,186.89 L260.0,185.99 L260.2,185.40 L260.4,185.12 L260.6,185.55 L260.8,186.19 L261.0,187.05 L261.2,187.86 L261.4,188.40 L261.6,188.84 L261.8,189.21 L262.0,189.50 L262.2,189.68 L262.4,189.92 L262.6,190.08 L262.8,190.21 L263.0,190.57 L263.6,190.53 L264.2,190.87 L264.8,190.72 L265.4,190.94 L266.0,190.59 L266.6,190.87 L267.2,190.91 L267.8,190.89 L268.4,190.88 L269.0,190.93 L269.6,190.90 L270.2,190.64 L270.8,190.84 L271.4,190.92 L272.0,190.95 L272.6,190.87 L273.2,191.01 L273.8,191.21 L274.4,191.09 L275.0,191.01 L275.6,191.30 L276.2,191.32 L276.8,191.32 L277.4,191.35 L278.0,191.10 L278.6,191.05 L279.2,191.24 L279.8,191.00 L280.4,190.99 L281.0,191.06 L281.6,191.05 L282.2,190.92 L282.8,191.06 L283.4,190.87 L284.0,190.92 L284.6,190.94 L285.2,190.80 L285.8,190.67 L286.4,190.18 L287.0,189.82 L287.6,189.57 L288.2,189.28 L288.3,189.41 L288.6,188.81 L288.8,188.48 L289.1,187.97 L289.3,187.38 L289.6,186.66 L289.8,185.74 L290.1,184.45 L290.3,182.82 L290.6,180.61 L290.8,178.28 L291.1,176.20 L291.3,175.29 L291.6,176.17 L291.8,178.23 L292.1,180.58 L292.3,182.72 L292.6,184.39 L292.8,185.85 L293.1,186.71 L293.3,187.53 L293.6,188.06 L293.8,188.51 L294.1,188.90 L294.3,189.07 L294.8,189.75 L295.4,190.10 L296.0,190.04 L296.6,190.49 L297.2,190.71 L297.8,190.82 L298.4,191.10 L299.0,190.88 L299.6,191.01 L300.2,191.12 L300.8,190.89 L301.4,191.20 L302.0,190.86 L302.6,190.80 L303.2,191.11 L303.8,190.93 L304.4,191.06 L305.0,190.84 L305.6,191.08 L306.2,190.95 L306.8,191.17 L307.4,190.92 L308.0,191.19 L308.6,191.15 L309.2,191.20 L309.8,191.20 L310.4,191.23 L311.0,191.00 L311.6,190.72 L312.2,191.08 L312.8,191.03 L313.4,191.09 L314.0,191.27 L314.6,190.91 L315.2,191.01 L315.8,191.07 L316.4,191.01 L317.0,191.23 L317.6,191.22 L318.2,191.10 L318.8,191.04 L319.4,191.33 L320.0,191.17 L320.6,191.33 L321.2,191.36 L321.8,190.97 L322.4,190.99 L323.0,191.18 L323.6,191.30 L324.2,191.41 L324.8,191.44 L325.4,191.50 L326.0,191.27 L326.6,191.23 L327.2,191.39 L327.8,191.23 L328.4,191.44 L329.0,191.05 L329.6,191.32 L330.2,191.26 L330.8,190.93 L331.4,191.34 L332.0,191.35 L332.6,191.30 L333.2,191.10 L333.8,191.14 L334.4,191.49 L335.0,191.20 L335.6,190.66 L336.2,190.95 L336.8,190.97 L337.4,191.16 L338.0,191.18 L338.6,191.09 L339.2,191.08 L339.8,191.40 L340.4,191.07 L341.0,191.55 L341.6,191.27 L342.2,191.09 L342.8,191.36 L343.4,191.40 L344.0,191.14 L344.6,191.37 L345.2,190.99 L345.8,191.04 L346.4,191.40 L347.0,191.27 L347.6,191.06 L348.2,191.30 L348.8,191.44 L349.4,191.33 L350.0,190.99 L350.6,191.14 L351.2,191.31 L351.8,191.42 L352.4,191.64 L353.0,191.35 L353.6,191.22 L354.2,191.26 L354.8,191.48 L355.4,191.18 L356.0,191.48 L356.6,190.87 L357.2,191.30 L357.8,191.17 L358.4,191.33 L359.0,191.41 L359.6,191.12 L360.2,191.22 L360.8,191.31 L361.4,191.39 L362.0,191.16 L362.6,191.08 L363.2,190.90 L363.8,191.60 L364.4,191.35 L365.0,191.26 L365.6,191.02 L366.2,191.36 L366.8,191.22 L367.4,191.51 L368.0,191.50 L368.6,191.35 L369.2,191.43 L369.8,191.14 L370.4,191.18 L371.0,191.16 L371.6,191.03 L372.2,191.21 L372.8,191.24 L373.4,191.51 L374.0,190.78 L374.6,191.02 L375.2,191.05 L375.8,191.13 L376.4,191.31 L377.0,191.36 L377.6,191.31 L378.2,191.21 L378.8,191.34 L379.4,191.36 L380.0,190.99 L380.6,191.15 L381.2,191.01 L381.8,191.00 L382.4,191.22 L383.0,191.27 L383.6,191.30 L384.2,191.14 L384.8,191.20 L385.4,191.10 L386.0,191.29 L386.6,191.40 L387.2,191.61 L387.8,191.59 L388.4,191.23 L389.0,191.18 L389.6,191.09 L390.2,191.27 L390.8,191.61 L391.4,191.49 L392.0,190.96 L392.6,190.97 L393.2,190.96 L393.8,191.26 L394.4,191.27 L395.0,191.32 L395.6,191.58 L396.2,191.22 L396.8,191.11 L397.4,191.55 L398.0,191.41 L398.6,191.17 L399.2,190.89 L399.8,190.89 L400.4,190.73 L401.0,191.11 L401.6,191.21 L402.2,191.40 L402.8,191.27 L403.4,191.13 L404.0,191.08 L404.6,191.51 L405.2,191.01 L405.8,191.19 L406.4,191.22 L407.0,191.32 L407.6,191.17 L408.2,191.28 L408.8,191.36 L409.4,191.21 L410.0,191.11 L410.6,191.11 L411.2,190.98 L411.8,191.05 L412.4,191.05 L413.0,191.12 L413.6,191.31 L414.2,191.35 L414.8,191.03 L415.4,191.09 L416.0,191.01 L416.6,191.02 L417.2,190.84 L417.8,190.75 L418.4,190.49 L419.0,190.21 L419.1,190.36 L419.4,190.27 L419.8,190.08 L420.1,189.85 L420.4,189.57 L420.7,189.19 L421.1,188.66 L421.4,188.18 L421.7,187.42 L422.0,186.42 L422.4,185.29 L422.7,184.44 L423.0,183.91 L423.3,184.46 L423.6,185.40 L424.0,186.58 L424.3,187.41 L424.6,188.17 L424.9,188.73 L425.3,189.20 L425.6,189.53 L425.9,189.77 L426.2,190.06 L426.6,190.16 L426.9,190.29 L427.4,190.56 L428.0,190.57 L428.6,190.66 L429.2,190.88 L429.8,190.86 L430.4,190.74 L431.0,190.92 L431.6,190.98 L432.2,191.34 L432.8,190.99 L433.4,191.25 L434.0,191.04 L434.6,191.06 L435.2,191.08 L435.8,191.19 L436.4,191.34 L437.0,191.53 L437.6,191.19 L438.2,191.43 L438.8,191.45 L439.4,191.43 L440.0,191.16 L440.6,191.36 L441.2,191.25 L441.8,191.30 L442.4,191.21 L443.0,191.34 L443.6,191.46 L444.2,191.50 L444.8,191.29 L445.4,191.43 L446.0,191.55 L446.6,191.18 L447.2,191.48 L447.8,191.10 L448.4,191.30 L449.0,191.37 L449.6,191.54 L450.2,191.39 L450.8,191.22 L451.4,191.11 L452.0,191.00 L452.6,191.31 L453.2,191.24 L453.8,191.13 L454.4,191.31 L455.0,191.15 L455.6,191.15 L456.2,191.15 L456.8,191.51 L457.4,191.58 L458.0,191.33 L458.6,191.01 L459.2,191.23 L459.8,191.26 L460.4,191.31 L461.0,191.36 L461.6,191.23 L462.2,191.39 L462.8,191.42 L463.4,191.32 L464.0,191.18 L464.6,191.11 L465.2,191.28 L465.8,191.00 L466.4,191.04 L467.0,190.88 L467.6,190.62 L468.2,190.75 L468.8,190.69 L469.4,190.85 L470.0,191.15 L470.6,190.88 L471.2,191.07 L471.8,191.20 L472.4,191.35 L473.0,191.07 L473.6,191.30 L474.2,191.29 L474.8,191.48 L475.4,191.51 L476.0,191.42 L476.6,191.66 L477.2,191.37 L477.8,191.21 L478.4,191.18 L479.0,191.07 L479.6,191.19 L480.2,190.91 L480.8,191.13 L481.4,191.29 L482.0,191.43 L482.6,191.24 L483.2,191.48 L483.8,191.20 L484.4,191.21 L485.0,190.91 L485.6,191.01 L486.2,191.03 L486.8,191.42 L487.4,191.38 L488.0,191.09 L488.6,191.27 L489.2,191.32 L489.8,191.21 L490.4,191.21 L491.0,191.16 L491.6,191.10 L492.2,190.87 L492.8,191.08 L493.4,191.36 L494.0,191.47 L494.6,191.21 L495.2,191.04 L495.8,191.07 L496.4,191.26 L497.0,191.21 L497.6,191.03 L498.2,191.12 L498.8,191.03 L499.4,191.10 L500.0,190.95 L500.6,190.70 L501.2,190.84 L501.8,190.96 L502.4,190.63 L503.0,190.64 L503.6,190.72 L504.2,190.43 L504.4,190.28 L504.8,190.36 L505.2,190.18 L505.6,189.99 L506.0,189.64 L506.4,189.42 L506.8,188.87 L507.2,188.35 L507.6,187.70 L508.0,186.85 L508.4,185.74 L508.8,184.83 L509.2,184.49 L509.6,184.77 L510.0,185.76 L510.4,186.81 L510.8,187.66 L511.2,188.41 L511.6,188.98 L512.0,189.38 L512.4,189.70 L512.8,190.00 L513.2,190.11 L513.6,190.28 L514.0,190.32 L514.4,190.65 L515.0,190.61 L515.6,190.80 L516.2,190.86 L516.8,190.90" fill="none" stroke="#4a70c4" stroke-width="1.3" stroke-linejoin="round"/>
<path d="M70.4,131.67 L71.0,131.45 L71.6,131.63 L72.2,131.58 L72.8,131.64 L73.4,131.41 L74.0,131.51 L74.6,131.51 L75.2,131.28 L75.8,131.35 L76.4,131.30 L77.0,131.29 L77.6,131.50 L78.2,131.23 L78.8,130.98 L79.4,130.89 L80.0,131.07 L80.6,131.09 L81.2,131.20 L81.8,131.31 L82.4,131.54 L83.0,131.36 L83.6,131.33 L84.2,131.12 L84.8,131.26 L85.4,131.43 L86.0,131.47 L86.6,130.93 L87.2,131.24 L87.8,131.43 L88.4,131.36 L89.0,130.95 L89.6,131.02 L90.2,131.18 L90.8,131.20 L91.4,130.99 L92.0,130.91 L92.6,131.19 L93.2,130.89 L93.8,131.25 L94.4,131.12 L95.0,131.12 L95.6,130.84 L96.2,130.88 L96.8,131.09 L97.4,130.80 L98.0,131.28 L98.6,130.85 L99.2,130.75 L99.8,130.92 L100.4,131.03 L101.0,131.10 L101.6,130.94 L102.2,130.91 L102.8,130.89 L103.4,130.82 L104.0,130.47 L104.6,130.94 L105.2,130.96 L105.8,130.94 L106.4,130.80 L107.0,130.90 L107.6,130.88 L108.2,130.86 L108.8,131.04 L109.4,130.62 L110.0,130.81 L110.6,130.65 L111.2,130.72 L111.8,131.03 L112.4,130.70 L113.0,130.75 L113.6,130.68 L114.2,130.91 L114.8,130.65 L115.4,130.45 L116.0,130.75 L116.6,130.69 L117.2,130.67 L117.8,130.89 L118.4,130.63 L119.0,130.63 L119.6,130.71 L120.2,130.77 L120.8,130.63 L121.4,130.83 L122.0,131.09 L122.6,130.72 L123.2,130.98 L123.8,130.40 L124.4,130.80 L125.0,130.62 L125.6,130.64 L126.2,130.57 L126.8,130.49 L127.4,130.36 L128.0,130.45 L128.6,130.75 L129.2,130.81 L129.8,130.58 L130.4,130.48 L131.0,130.41 L131.6,130.30 L132.2,130.76 L132.8,130.70 L133.4,130.59 L134.0,130.45 L134.6,130.31 L135.2,130.65 L135.8,130.66 L136.4,130.37 L137.0,130.60 L137.6,130.31 L138.2,130.51 L138.8,130.30 L139.4,130.32 L140.0,130.47 L140.6,130.50 L141.2,130.60 L141.8,130.32 L142.4,130.62 L143.0,130.67 L143.6,130.46 L144.2,130.46 L144.8,130.26 L145.4,130.29 L146.0,130.11 L146.6,130.27 L147.2,130.34 L147.8,130.54 L148.4,130.53 L149.0,130.49 L149.6,130.29 L150.2,130.24 L150.8,130.20 L151.4,130.28 L152.0,129.94 L152.6,130.28 L153.2,129.99 L153.8,130.07 L154.4,130.17 L155.0,130.11 L155.6,130.44 L156.2,130.25 L156.8,130.45 L157.4,130.45 L158.0,130.16 L158.6,130.22 L159.2,130.38 L159.8,130.15 L160.4,130.14 L161.0,130.03 L161.6,130.09 L162.2,130.03 L162.8,130.08 L163.4,130.24 L164.0,130.34 L164.6,130.16 L165.2,130.10 L165.8,130.19 L166.4,130.02 L167.0,129.83 L167.6,130.12 L168.2,129.86 L168.8,130.07 L169.4,129.81 L170.0,130.17 L170.6,129.78 L171.2,129.95 L171.8,130.07 L172.4,129.65 L173.0,129.86 L173.6,129.43 L174.2,128.95 L174.8,128.85 L175.4,128.17 L176.0,127.43 L176.6,127.62 L177.2,128.66 L177.8,129.12 L178.4,129.34 L179.0,129.48 L179.6,129.31 L180.2,129.49 L180.8,129.94 L181.4,130.05 L182.0,129.77 L182.6,129.64 L183.2,129.78 L183.8,129.93 L184.4,129.92 L185.0,129.61 L185.6,129.73 L186.2,129.76 L186.8,129.98 L187.4,130.00 L188.0,129.89 L188.6,129.97 L189.2,129.72 L189.8,129.96 L190.4,129.71 L191.0,129.76 L191.6,129.86 L192.2,129.58 L192.8,129.53 L193.4,129.33 L194.0,129.58 L194.6,129.62 L195.2,129.58 L195.8,129.69 L196.4,129.30 L197.0,129.51 L197.6,129.59 L198.2,129.55 L198.8,129.71 L199.4,129.90 L200.0,129.60 L200.6,129.43 L201.2,129.43 L201.8,129.55 L202.4,129.66 L203.0,129.46 L203.6,129.70 L204.2,129.44 L204.8,129.67 L205.4,129.67 L206.0,129.68 L206.6,129.96 L207.2,129.64 L207.8,129.57 L208.4,129.65 L209.0,129.73 L209.6,129.40 L210.2,129.56 L210.8,129.45 L211.4,129.63 L212.0,129.81 L212.6,129.65 L213.2,129.57 L213.8,129.60 L214.4,129.09 L215.0,129.55 L215.6,129.65 L216.2,129.61 L216.8,129.51 L217.4,129.43 L218.0,129.49 L218.6,129.73 L219.2,129.59 L219.8,129.79 L220.4,129.20 L221.0,129.37 L221.6,129.54 L222.2,129.54 L222.8,129.27 L223.4,129.35 L224.0,129.69 L224.6,129.37 L225.2,129.33 L225.8,129.29 L226.4,129.37 L227.0,129.59 L227.6,129.64 L228.2,129.23 L228.8,129.67 L229.4,129.47 L230.0,129.40 L230.6,129.75 L231.2,129.56 L231.8,129.31 L232.4,129.33 L233.0,129.32 L233.6,129.27 L234.2,129.36 L234.8,129.57 L235.4,129.55 L236.0,129.25 L236.6,129.83 L237.2,129.38 L237.8,129.42 L238.4,129.40 L239.0,129.51 L239.6,129.35 L240.2,129.41 L240.8,129.68 L241.4,129.41 L242.0,129.11 L242.6,129.22 L243.2,129.04 L243.8,129.01 L244.4,129.04 L245.0,129.01 L245.6,128.82 L246.2,128.85 L246.8,128.56 L247.4,128.12 L248.0,128.11 L248.6,127.59 L249.2,127.22 L249.8,126.11 L250.4,124.83 L251.0,122.14 L251.1,120.61 L251.2,119.96 L251.3,118.80 L251.5,117.47 L251.6,115.49 L251.7,113.17 L251.8,110.04 L251.9,105.81 L252.0,100.24 L252.1,93.11 L252.2,85.05 L252.3,77.96 L252.4,75.02 L252.5,77.99 L252.6,85.05 L252.7,93.07 L252.8,100.14 L252.9,105.75 L253.0,109.87 L253.1,113.04 L253.2,115.48 L253.3,117.34 L253.4,118.82 L253.6,119.88 L253.7,120.91 L254.0,123.02 L254.6,125.30 L255.2,126.05 L255.8,126.91 L256.4,127.52 L257.0,127.84 L257.6,128.06 L257.8,127.91 L258.0,127.78 L258.2,127.77 L258.4,127.65 L258.6,127.49 L258.8,127.41 L259.0,127.07 L259.2,126.68 L259.4,126.20 L259.6,125.56 L259.8,124.93 L260.0,124.29 L260.2,124.10 L260.4,124.36 L260.6,124.98 L260.8,125.81 L261.0,126.43 L261.2,126.96 L261.4,127.39 L261.6,127.72 L261.8,128.03 L262.0,128.16 L262.2,128.34 L262.4,128.46 L262.6,128.36 L263.0,128.49 L263.6,128.80 L264.2,129.06 L264.8,129.17 L265.4,129.27 L266.0,129.25 L266.6,129.19 L267.2,129.34 L267.8,129.16 L268.4,129.07 L269.0,129.21 L269.6,129.09 L270.2,129.21 L270.8,129.21 L271.4,129.25 L272.0,129.35 L272.6,129.26 L273.2,129.29 L273.8,129.09 L274.4,129.34 L275.0,129.24 L275.6,129.42 L276.2,128.94 L276.8,129.13 L277.4,129.35 L278.0,128.97 L278.6,129.19 L279.2,129.32 L279.8,129.35 L280.4,129.09 L281.0,129.27 L281.6,129.30 L282.2,129.10 L282.8,129.29 L283.4,129.18 L284.0,129.12 L284.6,128.97 L285.2,129.02 L285.8,128.87 L286.4,128.88 L287.0,128.61 L287.6,128.12 L288.2,127.71 L288.6,127.51 L288.9,127.05 L289.1,126.69 L289.4,126.23 L289.6,125.59 L289.9,124.70 L290.1,123.78 L290.4,122.48 L290.6,120.74 L290.9,118.51 L291.1,116.11 L291.4,113.88 L291.6,112.94 L291.9,113.83 L292.1,116.06 L292.4,118.49 L292.6,120.67 L292.9,122.56 L293.1,123.90 L293.4,124.90 L293.6,125.69 L293.9,126.26 L294.1,126.62 L294.4,127.11 L294.6,127.62 L294.8,127.75 L295.4,127.80 L296.0,128.52 L296.6,128.90 L297.2,128.80 L297.8,128.96 L298.4,129.17 L299.0,129.14 L299.6,129.37 L300.2,129.30 L300.8,129.41 L301.4,129.36 L302.0,129.11 L302.6,129.13 L303.2,129.84 L303.8,129.58 L304.4,129.69 L305.0,129.70 L305.6,129.81 L306.2,129.66 L306.8,129.43 L307.4,129.47 L308.0,129.16 L308.6,129.36 L309.2,129.61 L309.8,129.18 L310.4,129.44 L311.0,129.63 L311.6,129.77 L312.2,129.44 L312.8,129.39 L313.4,129.18 L314.0,129.26 L314.6,129.54 L315.2,129.88 L315.8,129.45 L316.4,129.74 L317.0,129.68 L317.6,129.50 L318.2,129.90 L318.8,129.24 L319.4,129.45 L320.0,129.56 L320.6,129.91 L321.2,129.96 L321.8,130.05 L322.4,129.73 L323.0,129.77 L323.6,129.85 L324.2,129.73 L324.8,129.67 L325.4,129.57 L326.0,129.50 L326.6,129.34 L327.2,129.82 L327.8,129.57 L328.4,129.23 L329.0,129.51 L329.6,129.55 L330.2,129.59 L330.8,129.88 L331.4,129.65 L332.0,129.55 L332.6,129.44 L333.2,129.53 L333.8,129.49 L334.4,129.58 L335.0,130.09 L335.6,129.80 L336.2,129.50 L336.8,129.87 L337.4,129.81 L338.0,129.78 L338.6,129.76 L339.2,129.77 L339.8,129.75 L340.4,129.86 L341.0,129.83 L341.6,129.88 L342.2,129.59 L342.8,129.58 L343.4,129.46 L344.0,129.70 L344.6,129.75 L345.2,129.56 L345.8,129.67 L346.4,130.04 L347.0,129.92 L347.6,129.50 L348.2,129.54 L348.8,129.67 L349.4,129.60 L350.0,129.65 L350.6,129.80 L351.2,129.70 L351.8,129.44 L352.4,129.66 L353.0,129.59 L353.6,129.60 L354.2,129.49 L354.8,129.33 L355.4,129.30 L356.0,129.44 L356.6,129.36 L357.2,129.07 L357.8,129.62 L358.4,129.40 L359.0,129.41 L359.6,129.62 L360.2,129.19 L360.8,129.69 L361.4,129.49 L362.0,129.66 L362.6,129.53 L363.2,129.62 L363.8,129.61 L364.4,129.59 L365.0,129.28 L365.6,129.25 L366.2,129.48 L366.8,129.78 L367.4,129.55 L368.0,129.66 L368.6,129.63 L369.2,129.68 L369.8,129.78 L370.4,129.39 L371.0,129.57 L371.6,129.55 L372.2,129.52 L372.8,129.42 L373.4,129.40 L374.0,129.36 L374.6,129.33 L375.2,129.92 L375.8,129.96 L376.4,129.70 L377.0,129.74 L377.6,129.47 L378.2,129.08 L378.8,129.13 L379.4,129.47 L380.0,129.78 L380.6,129.63 L381.2,129.43 L381.8,129.49 L382.4,129.39 L383.0,129.29 L383.6,129.45 L384.2,129.47 L384.8,129.41 L385.4,129.38 L386.0,129.36 L386.6,129.55 L387.2,129.80 L387.8,129.61 L388.4,129.95 L389.0,129.42 L389.6,129.57 L390.2,129.38 L390.8,129.48 L391.4,129.56 L392.0,129.66 L392.6,129.78 L393.2,129.54 L393.8,129.35 L394.4,129.47 L395.0,129.58 L395.6,129.45 L396.2,129.67 L396.8,129.87 L397.4,129.41 L398.0,129.57 L398.6,129.73 L399.2,129.28 L399.8,129.50 L400.4,129.49 L401.0,129.29 L401.6,129.68 L402.2,129.62 L402.8,129.48 L403.4,129.59 L404.0,129.65 L404.6,129.69 L405.2,129.66 L405.8,129.62 L406.4,129.34 L407.0,129.38 L407.6,129.48 L408.2,129.02 L408.8,129.69 L409.4,129.46 L410.0,129.28 L410.6,129.08 L411.2,129.35 L411.8,129.39 L412.4,129.28 L413.0,129.25 L413.6,129.15 L414.2,129.11 L414.8,129.17 L415.4,129.06 L416.0,129.19 L416.6,129.03 L417.2,128.94 L417.8,128.85 L418.4,128.81 L418.7,128.63 L419.0,128.32 L419.4,128.10 L419.7,127.81 L420.0,127.50 L420.3,127.16 L420.6,126.63 L421.0,125.90 L421.3,124.95 L421.6,123.78 L421.9,122.58 L422.3,121.51 L422.6,121.02 L422.9,121.40 L423.2,122.57 L423.6,123.88 L423.9,124.97 L424.2,125.92 L424.6,126.60 L424.9,127.09 L425.2,127.46 L425.5,127.86 L425.9,128.12 L426.2,128.26 L426.5,128.40 L426.8,128.67 L427.4,128.90 L428.0,128.91 L428.6,129.29 L429.2,129.15 L429.8,129.02 L430.4,129.37 L431.0,129.29 L431.6,129.38 L432.2,129.38 L432.8,129.22 L433.4,129.15 L434.0,129.31 L434.6,129.63 L435.2,129.34 L435.8,129.65 L436.4,129.56 L437.0,129.32 L437.6,129.49 L438.2,129.59 L438.8,129.38 L439.4,129.12 L440.0,129.46 L440.6,129.32 L441.2,129.53 L441.8,129.21 L442.4,129.41 L443.0,129.36 L443.6,129.24 L444.2,129.41 L444.8,129.53 L445.4,129.45 L446.0,129.32 L446.6,129.51 L447.2,129.25 L447.8,129.55 L448.4,129.63 L449.0,129.85 L449.6,129.79 L450.2,129.68 L450.8,129.64 L451.4,129.59 L452.0,129.35 L452.6,129.74 L453.2,129.70 L453.8,129.55 L454.4,129.37 L455.0,129.75 L455.6,129.70 L456.2,129.40 L456.8,129.62 L457.4,129.89 L458.0,129.65 L458.6,129.65 L459.2,129.51 L459.8,129.44 L460.4,129.69 L461.0,130.10 L461.6,129.73 L462.2,129.57 L462.8,129.68 L463.4,129.52 L464.0,129.63 L464.6,129.67 L465.2,129.37 L465.8,129.24 L466.4,129.33 L467.0,129.45 L467.6,129.28 L468.2,129.25 L468.8,128.83 L469.4,129.17 L470.0,129.20 L470.6,129.37 L471.2,129.49 L471.8,129.33 L472.4,129.41 L473.0,129.29 L473.6,129.50 L474.2,129.38 L474.8,129.41 L475.4,129.53 L476.0,129.43 L476.6,129.70 L477.2,129.49 L477.8,129.67 L478.4,129.63 L479.0,129.40 L479.6,129.47 L480.2,129.38 L480.8,129.44 L481.4,129.47 L482.0,129.82 L482.6,129.56 L483.2,129.80 L483.8,129.69 L484.4,129.37 L485.0,129.10 L485.6,129.52 L486.2,129.20 L486.8,129.55 L487.4,129.70 L488.0,129.64 L488.6,129.52 L489.2,129.47 L489.8,129.54 L490.4,129.47 L491.0,129.40 L491.6,129.40 L492.2,129.65 L492.8,129.43 L493.4,129.52 L494.0,129.29 L494.6,129.28 L495.2,129.16 L495.8,129.31 L496.4,129.49 L497.0,129.47 L497.6,129.32 L498.2,129.44 L498.8,129.30 L499.4,129.35 L500.0,129.32 L500.6,129.32 L501.2,128.78 L501.8,128.77 L502.4,129.04 L503.0,128.90 L503.6,129.15 L504.0,128.74 L504.4,128.52 L504.8,128.44 L505.2,128.22 L505.6,128.03 L506.0,127.65 L506.4,127.17 L506.8,126.64 L507.2,125.84 L507.6,124.92 L508.0,123.86 L508.4,122.96 L508.8,122.63 L509.2,122.96 L509.6,123.91 L510.0,124.93 L510.4,125.91 L510.8,126.48 L511.2,127.12 L511.6,127.59 L512.0,127.86 L512.4,128.21 L512.8,128.40 L513.2,128.61 L513.6,128.90 L513.8,128.90 L514.4,128.90 L515.0,128.81 L515.6,128.98 L516.2,129.04 L516.8,129.21" fill="none" stroke="#33906a" stroke-width="1.3" stroke-linejoin="round"/>
<path d="M70.4,68.22 L71.0,68.77 L71.6,68.16 L72.2,68.44 L72.8,68.24 L73.4,68.22 L74.0,68.40 L74.6,68.30 L75.2,68.07 L75.8,68.26 L76.4,68.21 L77.0,67.89 L77.6,68.16 L78.2,68.03 L78.8,68.04 L79.4,68.24 L80.0,68.27 L80.6,68.18 L81.2,68.55 L81.8,68.37 L82.4,68.14 L83.0,68.21 L83.6,68.17 L84.2,67.81 L84.8,67.80 L85.4,67.83 L86.0,68.40 L86.6,68.20 L87.2,68.12 L87.8,68.04 L88.4,68.27 L89.0,68.18 L89.6,68.42 L90.2,68.34 L90.8,68.46 L91.4,68.20 L92.0,68.20 L92.6,68.06 L93.2,68.06 L93.8,67.80 L94.4,67.91 L95.0,67.87 L95.6,67.91 L96.2,68.22 L96.8,68.16 L97.4,68.29 L98.0,68.27 L98.6,68.27 L99.2,68.28 L99.8,68.01 L100.4,68.16 L101.0,68.02 L101.6,67.94 L102.2,68.19 L102.8,68.42 L103.4,67.97 L104.0,68.28 L104.6,68.22 L105.2,67.92 L105.8,68.02 L106.4,68.06 L107.0,68.06 L107.6,67.94 L108.2,67.75 L108.8,67.91 L109.4,68.08 L110.0,68.12 L110.6,68.11 L111.2,68.17 L111.8,67.85 L112.4,67.90 L113.0,67.98 L113.6,68.10 L114.2,68.00 L114.8,68.02 L115.4,67.97 L116.0,68.27 L116.6,67.65 L117.2,67.82 L117.8,68.27 L118.4,68.04 L119.0,67.63 L119.6,67.82 L120.2,67.62 L120.8,67.68 L121.4,67.84 L122.0,68.13 L122.6,68.01 L123.2,68.00 L123.8,68.05 L124.4,67.93 L125.0,67.72 L125.6,67.77 L126.2,67.86 L126.8,67.78 L127.4,67.69 L128.0,67.71 L128.6,67.52 L129.2,67.54 L129.8,67.70 L130.4,67.70 L131.0,67.76 L131.6,68.00 L132.2,67.88 L132.8,67.79 L133.4,67.57 L134.0,67.52 L134.6,67.74 L135.2,67.59 L135.8,67.76 L136.4,67.56 L137.0,67.70 L137.6,67.70 L138.2,67.87 L138.8,67.69 L139.4,67.64 L140.0,67.72 L140.6,67.71 L141.2,67.97 L141.8,67.72 L142.4,67.60 L143.0,67.60 L143.6,67.72 L144.2,67.72 L144.8,67.79 L145.4,67.46 L146.0,67.99 L146.6,68.05 L147.2,67.75 L147.8,67.47 L148.4,67.60 L149.0,67.68 L149.6,67.27 L150.2,67.50 L150.8,67.33 L151.4,67.59 L152.0,67.81 L152.6,67.82 L153.2,67.40 L153.8,67.75 L154.4,67.77 L155.0,67.56 L155.6,67.64 L156.2,67.82 L156.8,67.57 L157.4,67.54 L158.0,67.44 L158.6,67.69 L159.2,67.22 L159.8,67.65 L160.4,67.39 L161.0,67.62 L161.6,67.26 L162.2,67.26 L162.8,67.31 L163.4,67.56 L164.0,67.22 L164.6,67.48 L165.2,67.35 L165.8,67.61 L166.4,67.42 L167.0,67.49 L167.6,67.39 L168.2,67.68 L168.8,67.40 L169.4,67.35 L170.0,67.65 L170.6,67.41 L171.2,67.41 L171.8,67.15 L172.4,67.19 L173.0,66.74 L173.6,66.91 L174.0,66.78 L174.2,66.75 L174.5,66.65 L174.8,66.66 L175.0,66.52 L175.2,66.25 L175.5,66.15 L175.8,65.76 L176.0,65.35 L176.2,64.87 L176.5,64.24 L176.8,63.70 L177.0,63.52 L177.2,63.83 L177.5,64.35 L177.8,64.79 L178.0,65.40 L178.2,65.76 L178.5,66.08 L178.8,66.29 L179.0,66.48 L179.2,66.55 L179.5,66.64 L179.8,66.74 L180.0,66.74 L180.2,66.97 L180.8,66.83 L181.4,67.28 L182.0,67.08 L182.6,67.05 L183.2,67.27 L183.8,67.30 L184.4,67.19 L185.0,67.04 L185.6,67.01 L186.2,66.91 L186.8,67.33 L187.4,67.44 L188.0,67.60 L188.6,67.43 L189.2,67.35 L189.8,67.39 L190.4,67.44 L191.0,67.25 L191.6,67.29 L192.2,67.60 L192.8,67.05 L193.4,66.94 L194.0,66.97 L194.6,67.26 L195.2,67.41 L195.8,67.21 L196.4,67.31 L197.0,67.22 L197.6,67.24 L198.2,67.11 L198.8,67.15 L199.4,67.16 L200.0,67.35 L200.6,67.59 L201.2,67.00 L201.8,67.20 L202.4,67.18 L203.0,67.33 L203.6,67.39 L204.2,67.36 L204.8,67.36 L205.4,67.07 L206.0,66.86 L206.6,67.35 L207.2,67.42 L207.8,67.09 L208.4,67.35 L209.0,67.33 L209.6,66.81 L210.2,67.21 L210.8,67.01 L211.4,67.31 L212.0,67.09 L212.6,67.02 L213.2,66.86 L213.8,67.03 L214.4,67.29 L215.0,67.09 L215.6,66.83 L216.2,67.41 L216.8,67.53 L217.4,67.38 L218.0,67.13 L218.6,66.94 L219.2,66.82 L219.8,67.14 L220.4,67.35 L221.0,67.03 L221.6,67.11 L222.2,67.08 L222.8,67.08 L223.4,67.20 L224.0,67.49 L224.6,67.13 L225.2,67.26 L225.8,67.34 L226.4,67.13 L227.0,67.09 L227.6,66.88 L228.2,67.21 L228.8,67.04 L229.4,66.96 L230.0,67.05 L230.6,66.92 L231.2,66.85 L231.8,66.94 L232.4,67.25 L233.0,67.05 L233.6,67.10 L234.2,66.78 L234.8,66.58 L235.4,67.12 L236.0,66.89 L236.6,66.60 L237.2,66.70 L237.8,66.79 L238.4,66.34 L239.0,66.21 L239.6,66.13 L240.2,65.54 L240.8,65.08 L241.4,64.71 L242.0,65.08 L242.6,65.56 L243.2,65.98 L243.8,66.11 L244.4,66.27 L245.0,66.39 L245.6,66.31 L246.2,66.45 L246.8,66.69 L247.4,66.14 L248.0,65.99 L248.6,65.82 L249.2,65.47 L249.8,64.83 L250.4,64.00 L251.0,63.06 L251.6,60.98 L251.9,58.74 L252.0,57.72 L252.2,56.62 L252.3,55.19 L252.4,53.32 L252.5,50.97 L252.6,47.92 L252.7,43.58 L252.8,38.15 L252.9,31.11 L253.0,23.12 L253.1,16.15 L253.2,13.29 L253.3,16.20 L253.4,23.14 L253.5,31.06 L253.6,38.08 L253.7,43.61 L253.8,47.74 L253.9,50.83 L254.0,53.35 L254.1,55.10 L254.2,56.55 L254.4,57.69 L254.5,58.54 L254.6,59.65 L255.2,62.25 L255.8,63.75 L256.4,64.32 L257.0,64.71 L257.6,65.55 L258.2,65.53 L258.5,65.54 L258.7,65.55 L258.9,65.49 L259.1,65.39 L259.3,65.20 L259.5,65.02 L259.7,64.92 L259.9,64.64 L260.1,64.23 L260.3,63.59 L260.5,62.92 L260.7,62.42 L260.9,62.22 L261.1,62.55 L261.3,63.10 L261.5,63.88 L261.7,64.40 L261.9,64.85 L262.1,65.27 L262.3,65.55 L262.5,65.70 L262.7,65.94 L262.9,66.15 L263.1,66.13 L263.3,66.18 L263.6,66.17 L264.2,66.15 L264.8,66.63 L265.4,66.84 L266.0,66.98 L266.6,66.96 L267.2,66.58 L267.8,66.81 L268.4,66.79 L269.0,66.71 L269.6,66.71 L270.2,67.03 L270.8,66.95 L271.4,67.31 L272.0,67.18 L272.6,66.75 L273.2,67.09 L273.8,67.25 L274.4,67.10 L275.0,66.85 L275.6,67.27 L276.2,66.88 L276.8,66.97 L277.4,66.69 L278.0,66.71 L278.6,66.64 L279.2,67.08 L279.8,67.22 L280.4,66.99 L281.0,66.76 L281.6,66.89 L282.2,66.99 L282.8,66.69 L283.4,66.64 L284.0,66.77 L284.6,66.92 L285.2,66.82 L285.8,66.81 L286.4,66.46 L287.0,66.07 L287.6,66.31 L288.2,66.03 L288.8,65.86 L289.4,65.45 L289.5,65.50 L289.8,65.17 L290.0,64.96 L290.2,64.55 L290.5,64.08 L290.8,63.49 L291.0,62.72 L291.2,61.65 L291.5,60.18 L291.8,58.48 L292.0,56.66 L292.2,54.92 L292.5,54.21 L292.8,54.91 L293.0,56.57 L293.2,58.50 L293.5,60.21 L293.8,61.66 L294.0,62.69 L294.2,63.55 L294.5,64.11 L294.8,64.64 L295.0,64.96 L295.2,65.17 L295.5,65.70 L296.0,65.96 L296.6,66.38 L297.2,66.46 L297.8,66.49 L298.4,66.65 L299.0,66.54 L299.6,66.53 L300.2,66.62 L300.8,66.73 L301.4,66.65 L302.0,66.85 L302.6,67.00 L303.2,67.34 L303.8,67.43 L304.4,67.15 L305.0,67.23 L305.6,67.08 L306.2,67.14 L306.8,67.10 L307.4,67.00 L308.0,67.08 L308.6,66.85 L309.2,67.11 L309.8,67.06 L310.4,66.92 L311.0,67.00 L311.6,67.18 L312.2,67.03 L312.8,67.18 L313.4,67.25 L314.0,67.43 L314.6,67.05 L315.2,67.10 L315.8,67.22 L316.4,67.42 L317.0,67.28 L317.6,67.32 L318.2,66.96 L318.8,67.00 L319.4,67.39 L320.0,67.18 L320.6,67.53 L321.2,67.15 L321.8,67.11 L322.4,66.88 L323.0,67.19 L323.6,67.22 L324.2,67.52 L324.8,67.30 L325.4,67.17 L326.0,66.93 L326.6,67.09 L327.2,67.30 L327.8,67.34 L328.4,67.43 L329.0,67.39 L329.6,67.23 L330.2,67.29 L330.8,67.24 L331.4,66.97 L332.0,67.40 L332.6,67.31 L333.2,67.04 L333.8,67.20 L334.4,67.23 L335.0,67.36 L335.6,67.48 L336.2,66.76 L336.8,67.15 L337.4,67.43 L338.0,67.09 L338.6,66.84 L339.2,67.13 L339.8,67.22 L340.4,67.25 L341.0,67.02 L341.6,67.05 L342.2,67.18 L342.8,67.31 L343.4,67.59 L344.0,67.35 L344.6,67.13 L345.2,66.77 L345.8,67.24 L346.4,67.18 L347.0,67.16 L347.6,67.01 L348.2,67.26 L348.8,66.90 L349.4,67.12 L350.0,67.18 L350.6,67.23 L351.2,67.42 L351.8,67.24 L352.4,67.22 L353.0,67.34 L353.6,66.97 L354.2,67.07 L354.8,67.16 L355.4,67.34 L356.0,67.10 L356.6,67.29 L357.2,67.28 L357.8,66.96 L358.4,66.87 L359.0,66.85 L359.6,67.11 L360.2,67.20 L360.8,67.31 L361.4,67.36 L362.0,67.14 L362.6,67.35 L363.2,67.37 L363.8,67.32 L364.4,67.31 L365.0,67.00 L365.6,67.19 L366.2,67.01 L366.8,66.93 L367.4,67.05 L368.0,67.17 L368.6,67.17 L369.2,67.12 L369.8,67.00 L370.4,67.16 L371.0,67.05 L371.6,66.91 L372.2,67.12 L372.8,67.41 L373.4,67.18 L374.0,67.00 L374.6,67.36 L375.2,67.53 L375.8,67.24 L376.4,67.16 L377.0,67.21 L377.6,67.69 L378.2,67.36 L378.8,67.40 L379.4,67.32 L380.0,66.92 L380.6,66.92 L381.2,66.89 L381.8,67.17 L382.4,67.20 L383.0,67.49 L383.6,67.23 L384.2,67.25 L384.8,67.21 L385.4,67.21 L386.0,67.58 L386.6,67.35 L387.2,67.48 L387.8,67.49 L388.4,67.17 L389.0,67.29 L389.6,67.15 L390.2,67.18 L390.8,67.20 L391.4,67.19 L392.0,67.10 L392.6,67.41 L393.2,67.20 L393.8,67.30 L394.4,67.49 L395.0,67.37 L395.6,67.40 L396.2,67.47 L396.8,67.44 L397.4,67.54 L398.0,67.03 L398.6,67.45 L399.2,67.25 L399.8,66.89 L400.4,66.97 L401.0,66.86 L401.6,67.06 L402.2,66.87 L402.8,66.89 L403.4,67.12 L404.0,67.16 L404.6,67.01 L405.2,67.06 L405.8,67.09 L406.4,67.13 L407.0,67.12 L407.6,67.08 L408.2,67.25 L408.8,66.87 L409.4,66.94 L410.0,67.06 L410.6,67.00 L411.2,66.95 L411.8,66.94 L412.4,67.04 L413.0,67.23 L413.6,67.03 L414.2,66.93 L414.8,66.99 L415.4,66.87 L416.0,66.52 L416.6,66.74 L417.2,66.64 L417.8,66.51 L418.4,66.58 L419.0,66.37 L419.2,66.18 L419.5,66.02 L419.9,65.85 L420.2,65.74 L420.5,65.50 L420.8,65.21 L421.1,64.78 L421.5,64.18 L421.8,63.40 L422.1,62.47 L422.4,61.47 L422.8,60.51 L423.1,60.21 L423.4,60.51 L423.8,61.39 L424.1,62.50 L424.4,63.37 L424.7,64.25 L425.1,64.73 L425.4,65.18 L425.7,65.50 L426.0,65.73 L426.4,65.87 L426.7,66.01 L427.0,66.27 L427.4,66.58 L428.0,66.97 L428.6,66.54 L429.2,66.81 L429.8,66.83 L430.4,67.02 L431.0,66.87 L431.6,67.06 L432.2,67.16 L432.8,67.16 L433.4,67.31 L434.0,67.10 L434.6,67.33 L435.2,67.03 L435.8,67.35 L436.4,66.70 L437.0,66.98 L437.6,66.93 L438.2,67.06 L438.8,67.27 L439.4,67.29 L440.0,67.19 L440.6,67.44 L441.2,66.97 L441.8,66.95 L442.4,67.34 L443.0,67.26 L443.6,66.83 L444.2,67.11 L444.8,66.94 L445.4,67.34 L446.0,67.40 L446.6,67.14 L447.2,67.37 L447.8,67.08 L448.4,67.29 L449.0,67.30 L449.6,67.18 L450.2,66.92 L450.8,67.04 L451.4,66.74 L452.0,66.94 L452.6,66.78 L453.2,67.25 L453.8,67.02 L454.4,66.71 L455.0,67.12 L455.6,67.21 L456.2,67.09 L456.8,67.50 L457.4,67.39 L458.0,67.24 L458.6,67.07 L459.2,66.62 L459.8,67.07 L460.4,67.29 L461.0,67.08 L461.6,66.88 L462.2,67.04 L462.8,66.80 L463.4,67.00 L464.0,67.17 L464.6,67.32 L465.2,67.10 L465.8,66.93 L466.4,66.84 L467.0,66.86 L467.6,66.72 L468.2,66.66 L468.8,66.77 L469.4,66.76 L470.0,66.84 L470.6,67.00 L471.2,67.14 L471.8,67.16 L472.4,67.15 L473.0,67.08 L473.6,67.20 L474.2,67.31 L474.8,67.33 L475.4,67.46 L476.0,67.20 L476.6,67.12 L477.2,67.43 L477.8,67.27 L478.4,67.26 L479.0,67.13 L479.6,67.31 L480.2,67.13 L480.8,66.98 L481.4,67.09 L482.0,67.06 L482.6,67.27 L483.2,67.12 L483.8,67.16 L484.4,67.12 L485.0,67.20 L485.6,67.05 L486.2,67.30 L486.8,66.95 L487.4,67.02 L488.0,66.98 L488.6,67.20 L489.2,67.16 L489.8,67.22 L490.4,67.10 L491.0,66.99 L491.6,66.89 L492.2,66.99 L492.8,66.98 L493.4,67.11 L494.0,67.16 L494.6,67.27 L495.2,67.12 L495.8,66.95 L496.4,66.85 L497.0,66.99 L497.6,67.08 L498.2,67.37 L498.8,67.14 L499.4,67.32 L500.0,67.38 L500.6,66.88 L501.2,67.09 L501.8,67.11 L502.4,67.11 L503.0,66.84 L503.6,66.87 L504.2,66.56 L504.8,66.45 L505.2,66.37 L505.6,66.35 L506.0,66.13 L506.4,65.99 L506.8,65.73 L507.2,65.39 L507.6,65.05 L508.0,64.58 L508.4,63.87 L508.8,63.10 L509.2,62.12 L509.6,61.28 L510.0,60.99 L510.4,61.32 L510.8,62.10 L511.2,62.98 L511.6,63.87 L512.0,64.55 L512.4,65.02 L512.8,65.42 L513.2,65.63 L513.6,65.93 L514.0,66.14 L514.4,66.28 L514.8,66.35 L515.0,66.42 L515.6,66.57 L516.2,66.84 L516.8,66.84" fill="none" stroke="#a286d8" stroke-width="1.3" stroke-linejoin="round"/>
</g>
<g>
<path d="M252.9,254.2 L255.8,257.1 L252.9,260.0 L250.0,257.1 Z" fill="#16e82a"/>
<polygon points="261.10,288.20 262.26,290.34 264.87,290.69 262.98,292.36 263.43,294.71 261.10,293.60 258.77,294.71 259.22,292.36 257.33,290.69 259.94,290.34" fill="#bc3cdc"/>
<rect x="257.9" y="296.4" width="6.5" height="5.5" fill="#0a0ade"/>
<circle cx="261.1" cy="306.1" r="2.85" fill="#e61414"/>
<path d="M291.9,293.3 L294.8,296.2 L291.9,299.1 L289.0,296.2 Z" fill="#16e82a"/>
<polygon points="423.00,284.60 424.16,286.74 426.77,287.09 424.88,288.76 425.33,291.11 423.00,290.00 420.67,291.11 421.12,288.76 419.23,287.09 421.84,286.74" fill="#bc3cdc"/>
<circle cx="423.0" cy="295.2" r="2.85" fill="#e61414"/>
<path d="M423.0,299.2 L425.9,302.1 L423.0,305.0 L420.1,302.1 Z" fill="#16e82a"/>
<polygon points="469.80,299.70 470.96,301.84 473.57,302.19 471.68,303.86 472.13,306.21 469.80,305.10 467.47,306.21 467.92,303.86 466.03,302.19 468.64,301.84" fill="#bc3cdc"/>
<rect x="466.6" y="307.9" width="6.5" height="5.5" fill="#0a0ade"/>
<path d="M509.5,302.3 L512.4,305.2 L509.5,308.1 L506.6,305.2 Z" fill="#16e82a"/>
<path d="M252.7,192.1 L255.6,195.0 L252.7,197.9 L249.8,195.0 Z" fill="#16e82a"/>
<polygon points="261.00,223.80 262.16,225.94 264.77,226.29 262.88,227.96 263.33,230.31 261.00,229.20 258.67,230.31 259.12,227.96 257.23,226.29 259.84,225.94" fill="#bc3cdc"/>
<rect x="257.8" y="232.1" width="6.5" height="5.5" fill="#0a0ade"/>
<circle cx="261.0" cy="242.5" r="2.85" fill="#e61414"/>
<path d="M291.5,230.7 L294.4,233.6 L291.5,236.5 L288.6,233.6 Z" fill="#16e82a"/>
<polygon points="423.00,221.10 424.16,223.24 426.77,223.59 424.88,225.26 425.33,227.61 423.00,226.50 420.67,227.61 421.12,225.26 419.23,223.59 421.84,223.24" fill="#bc3cdc"/>
<circle cx="423.0" cy="232.4" r="2.85" fill="#e61414"/>
<path d="M423.0,236.8 L425.9,239.7 L423.0,242.6 L420.1,239.7 Z" fill="#16e82a"/>
<polygon points="469.90,237.10 471.06,239.24 473.67,239.59 471.78,241.26 472.23,243.61 469.90,242.50 467.57,243.61 468.02,241.26 466.13,239.59 468.74,239.24" fill="#bc3cdc"/>
<rect x="466.6" y="245.7" width="6.5" height="5.5" fill="#0a0ade"/>
<path d="M509.0,239.7 L511.9,242.6 L509.0,245.5 L506.1,242.6 Z" fill="#16e82a"/>
<path d="M177.7,245.4 L180.5,250.4 L174.9,250.4 Z" fill="#000"/>
<path d="M252.9,129.9 L255.8,132.8 L252.9,135.7 L250.0,132.8 Z" fill="#16e82a"/>
<polygon points="261.00,161.40 262.16,163.54 264.77,163.89 262.88,165.56 263.33,167.91 261.00,166.80 258.67,167.91 259.12,165.56 257.23,163.89 259.84,163.54" fill="#bc3cdc"/>
<rect x="257.8" y="169.8" width="6.5" height="5.5" fill="#0a0ade"/>
<circle cx="261.0" cy="179.6" r="2.85" fill="#e61414"/>
<path d="M291.3,168.4 L294.2,171.3 L291.3,174.2 L288.4,171.3 Z" fill="#16e82a"/>
<polygon points="423.00,159.80 424.16,161.94 426.77,162.29 424.88,163.96 425.33,166.31 423.00,165.20 420.67,166.31 421.12,163.96 419.23,162.29 421.84,161.94" fill="#bc3cdc"/>
<circle cx="423.0" cy="171.9" r="2.85" fill="#e61414"/>
<path d="M423.0,175.7 L425.9,178.6 L423.0,181.5 L420.1,178.6 Z" fill="#16e82a"/>
<polygon points="468.60,175.10 469.76,177.24 472.37,177.59 470.48,179.26 470.93,181.61 468.60,180.50 466.27,181.61 466.72,179.26 464.83,177.59 467.44,177.24" fill="#bc3cdc"/>
<rect x="465.4" y="183.2" width="6.5" height="5.5" fill="#0a0ade"/>
<path d="M509.2,175.6 L512.1,178.5 L509.2,181.4 L506.3,178.5 Z" fill="#16e82a"/>
<path d="M176.6,183.1 L179.4,188.1 L173.8,188.1 Z" fill="#000"/>
<path d="M252.5,68.0 L255.4,70.9 L252.5,73.8 L249.6,70.9 Z" fill="#16e82a"/>
<polygon points="260.60,98.50 261.76,100.64 264.37,100.99 262.48,102.66 262.93,105.01 260.60,103.90 258.27,105.01 258.72,102.66 256.83,100.99 259.44,100.64" fill="#bc3cdc"/>
<rect x="257.4" y="107.8" width="6.5" height="5.5" fill="#0a0ade"/>
<circle cx="260.6" cy="117.9" r="2.85" fill="#e61414"/>
<path d="M291.9,105.1 L294.8,108.0 L291.9,110.9 L289.0,108.0 Z" fill="#16e82a"/>
<polygon points="422.60,97.00 423.76,99.14 426.37,99.49 424.48,101.16 424.93,103.51 422.60,102.40 420.27,103.51 420.72,101.16 418.83,99.49 421.44,99.14" fill="#bc3cdc"/>
<circle cx="422.6" cy="107.6" r="2.85" fill="#e61414"/>
<path d="M422.6,111.8 L425.5,114.7 L422.6,117.6 L419.7,114.7 Z" fill="#16e82a"/>
<polygon points="468.60,112.80 469.76,114.94 472.37,115.29 470.48,116.96 470.93,119.31 468.60,118.20 466.27,119.31 466.72,116.96 464.83,115.29 467.44,114.94" fill="#bc3cdc"/>
<rect x="465.4" y="121.5" width="6.5" height="5.5" fill="#0a0ade"/>
<path d="M508.8,113.3 L511.7,116.2 L508.8,119.1 L505.9,116.2 Z" fill="#16e82a"/>
<path d="M176.0,120.5 L178.8,125.5 L173.2,125.5 Z" fill="#000"/>
<path d="M253.7,6.1 L256.6,9.0 L253.7,11.9 L250.8,9.0 Z" fill="#16e82a"/>
<polygon points="261.60,39.30 262.76,41.44 265.37,41.79 263.48,43.46 263.93,45.81 261.60,44.70 259.27,45.81 259.72,43.46 257.83,41.79 260.44,41.44" fill="#bc3cdc"/>
<rect x="258.4" y="48.0" width="6.5" height="5.5" fill="#0a0ade"/>
<circle cx="261.6" cy="57.9" r="2.85" fill="#e61414"/>
<path d="M292.7,46.7 L295.6,49.6 L292.7,52.5 L289.8,49.6 Z" fill="#16e82a"/>
<polygon points="423.00,34.90 424.16,37.04 426.77,37.39 424.88,39.06 425.33,41.41 423.00,40.30 420.67,41.41 421.12,39.06 419.23,37.39 421.84,37.04" fill="#bc3cdc"/>
<circle cx="423.0" cy="46.6" r="2.85" fill="#e61414"/>
<path d="M423.0,51.8 L425.9,54.7 L423.0,57.6 L420.1,54.7 Z" fill="#16e82a"/>
<polygon points="467.00,51.50 468.16,53.64 470.77,53.99 468.88,55.66 469.33,58.01 467.00,56.90 464.67,58.01 465.12,55.66 463.23,53.99 465.84,53.64" fill="#bc3cdc"/>
<rect x="463.8" y="60.0" width="6.5" height="5.5" fill="#0a0ade"/>
<path d="M510.0,51.3 L512.9,54.2 L510.0,57.1 L507.1,54.2 Z" fill="#16e82a"/>
<path d="M176.9,56.9 L179.7,61.9 L174.1,61.9 Z" fill="#000"/>
<path d="M241.5,57.9 L244.3,62.9 L238.7,62.9 Z" fill="#000"/>
</g>
<g stroke="#111" stroke-width="1.5">
<line x1="125.3" y1="331.8" x2="125.3" y2="325.8"/>
<line x1="237.3" y1="331.8" x2="237.3" y2="325.8"/>
<line x1="349.3" y1="331.8" x2="349.3" y2="325.8"/>
<line x1="461.3" y1="331.8" x2="461.3" y2="325.8"/>
<line x1="181.3" y1="331.8" x2="181.3" y2="328.8"/>
<line x1="293.3" y1="331.8" x2="293.3" y2="328.8"/>
<line x1="405.3" y1="331.8" x2="405.3" y2="328.8"/>
<line x1="69.2" y1="317.3" x2="75.2" y2="317.3"/>
<line x1="69.2" y1="249.7" x2="75.2" y2="249.7"/>
<line x1="69.2" y1="182.1" x2="75.2" y2="182.1"/>
<line x1="69.2" y1="114.5" x2="75.2" y2="114.5"/>
<line x1="69.2" y1="46.9" x2="75.2" y2="46.9"/>
<line x1="69.2" y1="283.5" x2="72.2" y2="283.5"/>
<line x1="69.2" y1="215.9" x2="72.2" y2="215.9"/>
<line x1="69.2" y1="148.3" x2="72.2" y2="148.3"/>
<line x1="69.2" y1="80.7" x2="72.2" y2="80.7"/>
<line x1="69.2" y1="13.1" x2="72.2" y2="13.1"/>
</g>
<rect x="69.2" y="2.5" width="449.0" height="329.3" fill="none" stroke="#111" stroke-width="1.7"/>
<g font-family='"Liberation Sans", "DejaVu Sans", sans-serif' font-size="21.8" fill="#000" stroke="#000" stroke-width="0.45">
<text x="61.2" y="322.1" text-anchor="end" textLength="26.2" lengthAdjust="spacingAndGlyphs">0.0</text>
<text x="61.2" y="254.5" text-anchor="end" textLength="26.2" lengthAdjust="spacingAndGlyphs">1.2</text>
<text x="61.2" y="186.9" text-anchor="end" textLength="26.2" lengthAdjust="spacingAndGlyphs">2.4</text>
<text x="61.2" y="119.3" text-anchor="end" textLength="26.2" lengthAdjust="spacingAndGlyphs">3.6</text>
<text x="61.2" y="51.7" text-anchor="end" textLength="26.2" lengthAdjust="spacingAndGlyphs">4.8</text>
<text x="114.4" y="353.6" textLength="21.8" lengthAdjust="spacingAndGlyphs">20</text>
<text x="226.4" y="353.6" textLength="21.8" lengthAdjust="spacingAndGlyphs">40</text>
<text x="338.4" y="353.6" textLength="21.8" lengthAdjust="spacingAndGlyphs">60</text>
<text x="450.4" y="353.6" textLength="21.8" lengthAdjust="spacingAndGlyphs">80</text>
<text transform="translate(18.7,231.2) rotate(-90)" textLength="129.5" lengthAdjust="spacingAndGlyphs" font-size="21.6" stroke="#000" stroke-width="0.6">Intensity/a.u.</text>
</g>
<g font-family='"Liberation Serif", "DejaVu Serif", serif' font-size="17.8" fill="#2b2b2b">
<text transform="translate(86.00,59.00) scale(0.9,1)">8<tspan dx="0.9" textLength="10.2" lengthAdjust="spacingAndGlyphs" stroke="#2b2b2b" stroke-width="0.35">%</tspan></text>
<text transform="translate(86.00,117.90) scale(0.9,1)">6<tspan dx="0.9" textLength="10.2" lengthAdjust="spacingAndGlyphs" stroke="#2b2b2b" stroke-width="0.35">%</tspan></text>
<text transform="translate(86.80,180.30) scale(0.9,1)">4<tspan dx="0.9" textLength="10.2" lengthAdjust="spacingAndGlyphs" stroke="#2b2b2b" stroke-width="0.35">%</tspan></text>
<text transform="translate(84.90,245.00) scale(0.9,1)">2<tspan dx="0.9" textLength="10.2" lengthAdjust="spacingAndGlyphs" stroke="#2b2b2b" stroke-width="0.35">%</tspan></text>
<text transform="translate(84.00,309.90) scale(0.9,1)">0<tspan dx="0.9" textLength="10.2" lengthAdjust="spacingAndGlyphs" stroke="#2b2b2b" stroke-width="0.35">%</tspan></text>
</g>
<g font-family='"Liberation Serif", "DejaVu Serif", serif' fill="#111">
<path d="M297.7,12.0 L300.7,15.0 L297.7,18.0 L294.7,15.0 Z" fill="#16e82a"/><text transform="translate(303.20,18.40) scale(0.96,1)" font-size="13.0" stroke="#111" stroke-width="0.15">&#945;-Cu</text><path d="M340.0,12.4 L342.7,17.2 L337.3,17.2 Z" fill="#000"/><text transform="translate(343.80,18.20) scale(0.94,1)" font-size="13.0" stroke="#111" stroke-width="0.15">Cu<tspan font-size="9.0" dy="3.3">1.84</tspan><tspan dy="-3.3">Mo</tspan><tspan font-size="9.0" dy="3.3">6</tspan><tspan dy="-3.3">S</tspan><tspan font-size="9.0" dy="3.3">8</tspan></text><circle cx="418.0" cy="14.2" r="2.75" fill="#e61414"/><text transform="translate(423.60,18.60) scale(0.885,1)" font-size="13.0" stroke="#111" stroke-width="0.15">K<tspan font-size="9.0" dy="3.3">III</tspan></text><polygon points="452.30,12.60 453.46,14.74 456.07,15.09 454.18,16.76 454.63,19.11 452.30,18.00 449.97,19.11 450.42,16.76 448.53,15.09 451.14,14.74" fill="#bc3cdc"/><text transform="translate(459.50,18.60) scale(0.885,1)" font-size="13.0" stroke="#111" stroke-width="0.15">K<tspan font-size="9.0" dy="3.3">II</tspan></text><rect x="482.2" y="11.7" width="6.6" height="6.4" fill="#0a0ade"/><text transform="translate(490.90,18.80) scale(0.885,1)" font-size="13.0" stroke="#111" stroke-width="0.15">K<tspan font-size="9.0" dy="3.3">I</tspan></text>
</g>
<text x="260.2" y="377.3" font-family='"Liberation Serif", "DejaVu Serif", serif' font-size="20.5" fill="#111" stroke="#111" stroke-width="0.25" textLength="50" lengthAdjust="spacingAndGlyphs">2&#952;/(&#176;)</text>
</svg>
</body></html>
